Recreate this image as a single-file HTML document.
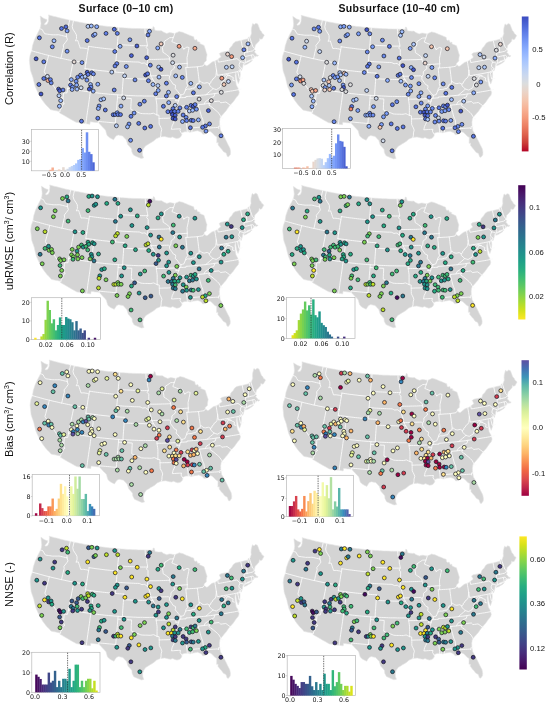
<!DOCTYPE html><html><head><meta charset="utf-8"><title>Figure</title><style>html,body{margin:0;padding:0;background:#fff}svg{display:block}text{font-family:"Liberation Sans",sans-serif;fill:#111}.dj{font-family:"DejaVu Sans","Liberation Sans",sans-serif;fill:#111}</style></head><body>
<svg width="550" height="707" viewBox="0 0 550 707">
<rect width="550" height="707" fill="#fff"/>
<defs><filter id="bl" x="-5%" y="-5%" width="110%" height="110%"><feGaussianBlur stdDeviation="0.35"/></filter>
<g id="us"><path d="M40.2,16.1 L41.1,16.6 L42.0,17.2 L43.0,17.9 L44.0,18.5 L45.8,19.2 L47.0,19.5 L46.8,21.0 L45.3,22.9 L44.3,24.1 L44.9,25.0 L46.0,24.6 L47.0,24.3 L47.8,22.8 L48.5,20.9 L48.5,19.2 L48.7,17.5 L48.8,16.1 L48.5,14.9 L50.3,15.4 L52.1,15.9 L53.9,16.4 L55.8,16.8 L57.6,17.3 L59.4,17.8 L61.2,18.2 L63.1,18.7 L64.9,19.1 L66.8,19.5 L68.6,19.9 L70.4,20.3 L72.3,20.7 L74.1,21.1 L76.0,21.5 L77.8,21.8 L79.7,22.2 L81.5,22.5 L83.4,22.9 L85.2,23.2 L87.1,23.5 L89.0,23.8 L90.8,24.1 L92.7,24.4 L94.6,24.7 L96.4,25.0 L98.3,25.2 L100.2,25.5 L102.0,25.7 L103.9,26.0 L105.8,26.2 L107.7,26.4 L109.5,26.6 L111.4,26.8 L113.3,27.0 L115.2,27.2 L117.0,27.4 L118.9,27.5 L120.8,27.7 L122.7,27.8 L124.6,27.9 L126.5,28.1 L128.3,28.2 L130.2,28.3 L132.1,28.4 L134.0,28.4 L135.9,28.5 L137.8,28.6 L139.7,28.6 L141.6,28.7 L143.4,28.7 L145.3,28.7 L147.2,28.8 L149.1,28.8 L151.0,28.8 L152.9,28.8 L152.9,26.7 L154.1,27.0 L154.5,28.6 L154.9,30.2 L156.4,30.5 L157.9,30.7 L159.6,30.8 L161.4,30.7 L163.4,32.1 L165.0,32.8 L166.7,33.5 L168.2,33.0 L169.6,32.6 L171.1,32.8 L172.5,33.1 L173.6,33.3 L174.7,33.5 L176.2,32.8 L177.7,32.2 L179.1,31.5 L180.9,31.9 L182.6,32.3 L184.6,33.2 L186.7,34.1 L188.3,34.7 L190.0,35.4 L191.6,36.1 L193.7,36.8 L194.2,39.3 L195.1,40.1 L196.7,39.6 L197.8,42.1 L199.1,41.7 L199.9,42.5 L199.4,43.3 L200.9,44.0 L202.5,44.7 L204.1,45.4 L204.8,47.7 L205.6,50.1 L206.3,52.5 L207.1,54.8 L206.7,56.6 L206.4,58.3 L206.4,60.5 L205.5,61.5 L204.1,62.7 L204.2,64.0 L206.3,65.8 L207.6,65.6 L209.0,64.4 L210.5,63.2 L212.0,62.0 L214.0,61.3 L216.0,60.6 L217.6,59.5 L219.2,58.3 L220.7,57.2 L220.9,56.3 L220.2,55.5 L220.0,54.7 L219.3,53.7 L221.1,52.4 L223.1,52.0 L225.0,51.6 L226.9,51.3 L228.9,50.9 L229.7,48.0 L230.9,46.9 L232.0,45.7 L233.5,43.1 L234.5,42.4 L235.6,41.6 L237.4,41.2 L239.3,40.8 L241.1,40.4 L242.9,40.0 L244.7,39.5 L246.5,39.1 L248.3,38.6 L248.4,37.3 L249.4,37.0 L250.5,36.6 L250.7,35.6 L251.5,33.4 L251.3,30.9 L251.5,27.9 L252.1,25.7 L252.7,23.5 L254.2,24.6 L255.9,23.2 L257.7,23.9 L258.5,26.0 L259.3,28.1 L260.1,30.2 L261.4,31.5 L262.4,33.6 L263.5,34.1 L264.3,35.3 L263.0,37.5 L262.4,38.8 L260.8,39.3 L259.7,38.4 L259.3,40.9 L258.1,42.2 L256.9,43.6 L255.4,44.9 L254.7,48.0 L254.3,49.5 L255.4,50.4 L254.4,52.1 L255.8,53.2 L256.9,55.0 L258.3,55.1 L258.3,55.8 L256.9,56.5 L256.3,55.7 L255.1,57.2 L253.6,56.7 L253.8,58.1 L252.3,59.1 L250.9,59.5 L249.4,60.0 L248.0,60.4 L246.6,61.5 L245.2,62.5 L244.3,63.6 L243.6,63.6 L243.0,65.0 L242.8,66.8 L242.2,68.7 L241.6,70.6 L239.7,69.2 L238.7,67.2 L239.4,69.6 L240.1,71.6 L240.2,73.0 L240.3,74.5 L240.1,76.7 L239.9,79.0 L239.2,81.3 L238.4,83.6 L237.7,81.8 L237.0,80.0 L236.6,77.7 L236.2,75.5 L236.1,73.6 L235.9,71.8 L235.5,73.6 L235.1,75.5 L235.3,77.7 L235.4,80.0 L235.9,82.5 L236.3,85.0 L237.1,86.5 L238.0,87.9 L238.6,90.1 L239.3,92.3 L238.7,94.6 L237.7,95.9 L236.6,97.1 L235.0,99.4 L233.4,101.7 L232.0,103.2 L230.6,104.8 L229.2,106.3 L227.6,108.6 L226.0,110.9 L224.6,112.4 L223.3,114.0 L221.9,115.5 L220.0,118.2 L219.8,119.9 L219.5,121.5 L219.6,123.1 L219.6,124.7 L220.1,127.5 L220.5,130.2 L221.3,131.5 L222.1,132.8 L223.3,135.2 L224.6,137.7 L225.8,140.1 L226.8,142.1 L227.8,144.2 L228.9,146.2 L229.9,148.2 L230.3,150.1 L230.6,152.0 L230.4,154.4 L228.6,156.8 L227.3,156.5 L226.7,154.7 L226.1,153.0 L223.5,151.7 L221.9,149.4 L220.3,147.7 L219.2,146.3 L218.1,144.9 L218.2,142.6 L216.7,142.8 L216.8,141.3 L216.8,139.7 L216.9,136.9 L214.9,135.8 L212.6,133.3 L210.8,131.8 L209.0,131.2 L207.6,132.2 L206.4,133.0 L205.1,133.9 L202.9,134.3 L201.1,132.1 L199.4,131.4 L197.7,130.7 L195.6,131.1 L193.5,131.4 L191.6,132.0 L189.4,132.3 L189.4,130.1 L188.7,130.4 L188.6,131.8 L186.7,131.8 L184.8,131.8 L182.4,132.6 L181.5,133.5 L181.9,134.6 L181.0,136.6 L179.2,138.0 L176.8,138.6 L174.6,137.9 L172.5,136.9 L170.7,137.7 L168.7,137.5 L166.7,137.0 L164.6,136.5 L162.5,136.7 L160.4,136.9 L158.3,137.8 L156.2,138.7 L153.7,140.9 L151.7,142.2 L149.6,143.4 L147.6,144.7 L145.5,145.9 L143.5,148.7 L142.9,150.4 L142.4,152.0 L142.5,153.7 L142.6,155.3 L143.6,157.9 L141.0,158.4 L139.6,157.8 L138.1,157.2 L135.8,156.2 L133.5,155.1 L132.6,153.4 L131.8,151.8 L131.6,149.0 L129.7,146.8 L127.7,144.6 L127.0,142.2 L126.2,139.8 L124.4,137.9 L122.6,135.9 L120.4,135.5 L118.2,135.0 L116.1,135.9 L114.8,137.8 L113.6,139.7 L111.5,138.7 L109.4,137.6 L107.1,135.5 L106.3,132.9 L105.6,130.3 L104.0,128.5 L102.3,126.8 L100.7,125.0 L99.5,123.8 L98.4,122.6 L96.3,122.4 L94.3,122.2 L92.3,121.9 L90.3,121.7 L89.9,124.2 L87.6,123.9 L85.3,123.6 L83.0,123.3 L80.6,122.9 L78.3,122.6 L76.0,122.2 L73.9,121.1 L71.8,119.9 L69.7,118.7 L67.6,117.5 L65.5,116.3 L63.4,115.1 L61.4,113.9 L59.3,112.7 L59.9,111.5 L58.0,111.2 L56.1,110.8 L54.2,110.4 L52.2,110.0 L50.3,109.6 L48.5,107.4 L47.2,106.2 L46.0,105.0 L44.4,103.0 L43.1,101.3 L41.8,99.5 L40.6,97.4 L39.5,95.3 L38.3,93.2 L37.2,91.0 L36.2,88.8 L35.2,86.6 L34.6,84.3 L34.0,82.0 L33.5,80.0 L33.1,78.0 L32.1,75.0 L31.2,72.6 L30.4,70.1 L30.1,67.6 L29.9,65.1 L29.6,62.6 L29.4,60.2 L29.7,57.7 L30.1,55.2 L31.0,52.7 L31.8,50.3 L32.2,47.8 L32.6,45.3 L33.3,43.3 L33.9,41.4 L34.6,39.4 L35.6,37.4 L36.5,35.4 L37.5,33.4 L38.5,31.5 L39.5,29.5 L40.1,28.0 L40.6,26.5 L40.8,25.0 L41.0,23.6 L40.8,21.5 L40.6,19.5 L40.4,17.8 L40.2,16.1ZM244.3,65.2 L245.5,64.8 L246.8,64.4 L248.7,63.2 L250.6,62.1 L251.6,61.2 L252.5,60.3 L250.7,60.6 L249.6,61.6 L248.4,62.1 L247.2,62.5 L246.1,63.0 L245.0,63.4 L244.2,64.8 L244.3,65.2Z" fill="#d4d4d4" stroke="#e6e6e6" stroke-width="0.6" stroke-linejoin="round"/><path d="M39.5,28.5 L40.9,29.1 L42.3,29.6 L43.3,31.6 L44.8,33.8 L46.3,34.0 L47.7,34.2 L49.2,34.4 L50.6,34.6 L52.0,34.8 L53.7,34.8 L55.3,34.8 L57.0,34.8 L58.3,34.7 L59.9,35.0 L61.5,35.4 L63.1,35.8 L64.8,36.2 L66.4,36.5M69.7,20.2 L69.2,22.5 L68.6,24.8 L68.1,27.2 L67.5,29.5 L67.0,31.9 L66.4,34.2 L66.4,36.5M66.4,36.5 L67.4,39.6 L66.4,41.1 L65.3,42.6 L63.3,45.0 L63.6,47.4 L63.2,48.4 L62.6,50.9 L62.0,53.3 L61.5,55.8 L60.9,58.3M31.4,50.7 L33.4,51.3 L35.4,51.9 L37.4,52.4 L39.4,53.0 L41.4,53.5 L43.4,54.1 L45.4,54.6 L47.4,55.1 L49.4,55.6 L51.4,56.1 L53.4,56.6 L55.4,57.0 L57.4,57.5 L59.4,58.0 L61.5,58.4 L63.5,58.8 L65.5,59.3 L67.5,59.7 L69.6,60.1 L71.6,60.5 L73.6,60.9 L75.7,61.2 L77.7,61.6 L79.7,61.9 L81.8,62.3 L83.8,62.6 L85.9,62.9M48.6,55.4 L47.9,58.1 L47.2,60.9 L46.4,63.6 L45.7,66.3 L45.0,69.0 L44.2,71.8 L45.8,74.3 L47.4,76.8 L49.1,79.3 L50.7,81.8 L52.4,84.3 L54.1,86.7 L55.8,89.2 L57.6,91.7 L59.3,94.1 L61.1,96.6 L62.9,99.0M62.9,99.0 L63.0,100.2 L63.2,103.1 L64.3,103.6 L62.3,105.2 L61.7,108.0 L60.1,110.0 L59.9,111.5M62.9,99.0 L63.2,97.0 L63.4,94.9 L63.6,92.8 L65.3,92.9 L66.9,92.9 L67.4,90.7 L67.8,88.5M67.8,88.5 L68.4,85.7 L68.9,82.9 L69.5,80.2 L70.0,77.4 L70.6,74.6 L71.1,71.8 L71.7,69.1 L72.2,66.3 L72.8,63.6 L73.3,60.8M67.8,88.5 L70.0,88.9 L72.3,89.3 L74.5,89.7 L76.7,90.0 L79.0,90.4 L81.2,90.7 L83.5,91.1 L85.7,91.4 L88.0,91.7 L90.2,92.0 L92.5,92.3 L94.7,92.6 L97.0,92.9 L99.2,93.2 L101.5,93.4 L103.8,93.7 L106.0,93.9 L108.3,94.1 L110.5,94.3 L112.8,94.5 L115.1,94.7 L117.3,94.8 L119.6,95.0 L121.9,95.1 L124.1,95.3 L126.4,95.4 L128.7,95.5 L130.9,95.6 L133.2,95.7 L135.5,95.8 L137.7,95.9 L140.0,95.9 L142.3,95.9 L144.6,96.0 L146.8,96.0 L149.1,96.0 L151.4,96.0 L153.7,96.0 L155.9,96.0M93.5,69.7 L93.1,72.4 L92.7,75.1 L92.3,77.8 L91.9,80.5 L91.6,83.2 L91.2,85.9 L90.8,88.6 L90.4,91.3 L90.0,94.0 L89.6,96.7 L89.3,99.4 L88.9,102.1 L88.5,104.8 L88.1,107.5 L87.7,110.2 L87.3,112.9 L86.9,115.6 L86.6,118.3 L86.2,121.0 L85.8,123.7M85.9,62.9 L85.4,65.7 L85.0,68.5M88.6,46.3 L88.2,49.1 L87.7,51.8 L87.2,54.6 L86.8,57.4 L86.3,60.2 L85.9,62.9M88.6,46.3 L90.6,46.6 L92.6,46.9 L94.6,47.2 L96.7,47.5 L98.7,47.7 L100.7,48.0 L102.7,48.2 L104.7,48.5 L106.8,48.7 L108.8,48.9 L110.8,49.1 L112.8,49.3 L114.9,49.5 L116.9,49.7M85.0,68.5 L87.1,68.8 L89.2,69.1 L91.4,69.4 L93.5,69.7 L95.6,70.0 L97.8,70.3 L99.9,70.5 L102.1,70.8 L104.2,71.0 L106.3,71.2 L108.5,71.5 L110.6,71.7 L112.8,71.9 L114.9,72.0 L117.1,72.2 L119.2,72.4 L121.4,72.5 L123.5,72.7M73.4,21.0 L72.8,23.7 L72.2,26.4 L72.8,29.0 L73.9,30.8 L75.1,32.6 L76.4,34.9 L76.5,36.7 L76.5,38.6 L75.4,40.9 L76.6,40.7 L77.7,40.5 L78.4,42.5 L79.0,44.4 L79.6,46.2 L80.2,48.1 L81.7,48.0 L83.1,48.0 L84.8,48.3 L86.4,48.5 L88.1,49.2M118.8,27.5 L118.6,30.3 L118.4,33.0 L118.1,35.8 L117.9,38.5 L117.6,41.3 L117.4,44.1 L117.1,46.9 L116.9,49.7 L116.6,52.4 L116.4,55.2 L116.2,58.0 L115.9,60.8 L115.7,63.6 L115.4,66.4 L115.2,69.2 L114.9,72.0M117.4,44.4 L119.3,44.6 L121.3,44.7 L123.3,44.9 L125.3,45.0 L127.3,45.1 L129.4,45.2 L131.4,45.3 L133.4,45.4 L135.4,45.5 L137.4,45.6 L139.4,45.6 L141.4,45.7 L143.4,45.7 L145.4,45.7 L147.4,45.7M115.9,60.8 L117.8,61.0 L119.8,61.1 L121.7,61.3 L123.6,61.4 L125.6,61.5 L127.5,61.6 L129.5,61.7 L131.4,61.8 L133.3,61.9 L135.3,62.0 L137.2,62.0 L139.1,62.1 L140.4,62.7 L141.6,63.3 L143.1,63.1 L144.6,63.0 L145.8,64.0 L147.1,65.0 L147.7,65.0M123.5,72.7 L123.4,75.5 L123.2,78.3 L123.0,81.1 L122.8,83.9 L122.6,86.7 L122.4,89.5 L122.2,92.3 L122.1,95.2M123.2,78.3 L125.3,78.4 L127.4,78.5 L129.5,78.6 L131.6,78.7 L133.7,78.8 L135.8,78.9 L137.9,78.9 L140.0,79.0 L142.1,79.0 L144.3,79.1 L146.4,79.1 L148.5,79.1 L150.6,79.1 L152.7,79.1M117.7,94.9 L117.5,97.7 L117.3,100.5 L117.0,103.3 L116.8,106.1 L116.6,108.9 L116.3,111.7 L116.1,114.5 L115.8,117.3 L115.6,120.1 L115.4,122.9M115.4,122.9 L113.2,122.8 L111.0,122.6 L108.9,122.4 L106.7,122.2 L104.5,122.0 L102.4,121.8 L100.2,121.6 L98.1,121.4 L98.4,122.6M117.5,97.7 L119.8,97.8 L122.1,98.0 L124.4,98.1 L126.7,98.2 L129.0,98.4 L131.3,98.5 L131.2,101.2 L131.0,103.9 L130.9,106.6 L130.8,109.4 L132.7,110.2 L134.5,111.0 L136.1,111.6 L137.8,112.2 L139.2,112.8 L140.6,113.4 L142.3,113.6 L143.9,113.7 L145.4,113.7 L146.8,113.7 L148.7,113.8 L150.6,113.8 L152.0,113.5 L153.4,113.2 L155.1,114.0 L156.9,114.9M156.9,114.9 L159.0,115.3 L159.0,117.5 L159.1,119.7 L159.1,121.9 L159.2,124.1 L160.0,125.7 L160.9,127.4 L161.7,129.6 L161.0,132.4 L160.9,135.2 L160.4,136.9M155.9,96.0 L156.0,98.8 L156.3,100.8 L156.6,102.9 L156.9,105.0 L156.9,107.4 L156.9,109.9 L156.9,112.4 L156.9,114.9M159.0,118.4 L161.3,118.4 L163.6,118.3 L165.9,118.3 L168.2,118.2 L170.5,118.1 L172.8,118.0M156.0,98.8 L158.2,98.7 L160.5,98.7 L162.8,98.6 L165.1,98.6 L167.4,98.5 L169.6,98.4 L171.9,98.3 L174.2,98.2 L176.5,98.0 L175.6,100.9 L177.2,100.8 L178.7,100.7M155.9,96.0 L155.9,93.6 L155.9,91.2 L155.8,88.9 L155.8,86.5 L155.7,84.1 L154.0,81.3 L152.7,79.1 L151.7,77.4 L150.7,75.7 L150.4,74.0 L150.1,72.3 L149.2,69.5 L148.5,67.3 L147.7,65.0M150.6,75.8 L152.6,75.8 L154.5,75.8 L156.5,75.7 L158.4,75.7 L160.4,75.6 L162.3,75.5 L164.3,75.4 L166.2,75.4 L168.2,75.3 L169.5,76.5M147.8,59.4 L149.7,59.4 L151.7,59.4 L153.7,59.4 L155.7,59.4 L157.7,59.3 L159.6,59.3 L161.6,59.2 L163.6,59.2 L165.6,59.1 L167.5,59.0 L169.5,58.9M147.7,65.0 L147.1,63.9 L147.4,61.6 L147.8,59.4 L147.8,56.9 L147.8,54.4 L147.8,51.8 L147.8,49.3 L146.2,47.6 L147.4,45.7 L147.2,43.5 L146.8,41.9 L146.5,40.4 L146.4,38.4 L146.3,36.5 L145.7,34.8 L145.2,33.2 L145.0,31.0 L144.9,28.7M165.1,40.9 L164.3,41.5 L164.4,43.0 L164.4,44.6 L163.4,46.0 L162.3,47.4 L162.6,49.1 L162.9,50.8 L162.9,52.2 L164.7,53.4 L166.5,54.6 L167.9,55.8 L169.3,57.0 L169.5,58.9 L170.2,61.7 L172.2,64.4 L174.3,66.5 L174.4,68.2 L172.6,69.7 L170.9,71.2 L170.8,74.1 L169.5,76.5 L169.3,78.6 L170.5,80.3 L171.7,81.9 L173.1,84.1 L175.4,85.1 L175.5,86.8 L175.0,88.5 L177.1,90.4 L178.1,91.9 L179.1,93.3 L180.8,94.9 L180.8,97.2 L179.4,97.8 L178.7,100.7 L177.9,102.7 L177.1,104.8 L177.2,106.5 L175.0,108.8 L174.2,110.6 L173.3,112.3 L173.1,115.1 L172.8,118.0 L173.3,120.8 L174.1,121.8 L173.1,123.9 L172.1,125.9 L171.7,127.6 L171.3,129.3 L173.6,129.2 L175.9,129.0 L178.2,128.9 L180.5,128.8 L180.0,130.8 L181.5,133.3M172.2,64.4 L174.1,64.3 L176.1,64.2 L178.0,64.0 L179.9,63.9 L181.8,63.8 L183.7,63.6 L185.7,63.5 L187.6,63.3M183.7,49.0 L185.4,48.0 L187.0,47.0 L189.1,47.6 L188.6,50.2 L188.1,52.7 L187.6,55.2 L187.0,57.7 L187.1,60.5 L187.2,63.3 L187.2,65.4 L187.1,67.5 L185.8,67.6M174.7,33.5 L174.1,35.5 L173.4,37.4 L172.6,39.5 L171.8,41.6 L173.6,42.4 L175.4,43.1 L177.2,43.9 L179.3,44.3 L181.3,44.7 L182.6,47.4 L183.7,49.0M165.1,40.9 L166.6,39.8 L168.2,38.8 L169.7,37.7 L171.5,37.6 L173.4,37.4M185.8,67.6 L186.0,70.3 L186.3,73.0 L186.5,75.7 L186.8,78.4 L187.0,81.1 L186.9,83.1 L187.6,85.9 L185.8,88.3 L185.5,90.0M180.8,94.9 L182.3,94.5 L183.8,94.1 L184.6,92.1 L185.5,90.0 L187.4,89.0 L188.8,89.1 L190.1,89.1 L192.3,88.3 L194.5,88.1 L195.7,86.3 L196.8,83.9 L198.0,83.5 L199.1,83.0 L199.2,81.3 L200.5,81.2 L202.0,82.7 L203.3,83.0 L204.5,83.2 L206.0,82.9 L207.4,82.6 L209.4,83.7 L211.0,82.7 L210.8,81.5 L212.6,80.1 L212.7,79.0 L214.7,77.6 L215.9,75.7 L216.3,72.7 L216.5,70.2M199.2,81.3 L198.9,78.9 L198.6,76.5 L198.3,74.1 L198.0,71.6 L197.7,69.2 L197.4,66.8M187.1,67.5 L189.2,67.4 L191.2,67.2 L193.3,67.1 L195.3,67.0 L197.4,66.8 L199.3,66.5 L201.2,66.2 L203.1,65.9 L204.3,64.2M216.5,70.2 L216.1,67.9 L215.7,65.5 L215.3,63.2 L214.9,60.9M217.9,59.4 L218.4,62.1 L220.4,61.8 L222.5,61.4 L224.5,61.1 L226.6,60.7 L228.6,60.3 L230.7,59.9 L232.7,59.5 L234.8,59.1 L236.8,58.6 L238.1,59.5 L240.3,61.6 L239.2,64.2 L239.2,66.2 L241.6,68.0 L240.5,69.9 L239.2,72.0M216.5,70.2 L216.9,72.8 L217.3,75.3 L219.4,75.0 L221.4,74.6 L223.5,74.3 L225.5,73.9 L227.6,73.6 L229.6,73.2 L231.7,72.8 L233.7,72.4 L235.7,72.0 L237.8,71.6 L238.4,70.8 L239.1,70.8M237.8,71.6 L238.3,73.9 L238.8,76.2 L239.3,78.5 L240.9,78.2 L242.6,77.9M221.9,74.6 L222.1,76.0 L222.4,77.5 L223.8,76.5 L225.2,75.4 L226.6,74.4 L228.2,75.0 L229.8,75.6 L231.1,76.5 L233.3,77.5 L232.8,80.2 L234.5,80.7M229.8,75.6 L228.4,75.5 L227.1,75.5 L226.3,77.3 L225.5,79.2 L223.9,80.2 L222.3,81.2 L221.3,84.2 L220.4,87.2 L218.4,88.4 L216.4,89.6 L214.7,89.1 L213.0,88.6 L211.3,87.0 L209.6,85.4 L209.4,83.7M213.0,88.6 L211.3,90.2 L209.5,91.7 L207.7,93.2 L206.0,94.7M241.3,89.1 L239.1,89.5 L236.9,90.0 L234.8,90.4 L232.6,90.8 L230.4,91.1 L228.2,91.5 L226.0,91.9 L223.8,92.2 L221.6,92.6 L219.4,92.9 L217.2,93.2 L215.0,93.5 L212.8,93.9 L210.5,94.2 L208.2,94.4 L206.0,94.7 L203.7,95.0 L201.5,95.2 L199.3,95.4 L197.1,95.6 L194.8,95.8 L192.6,96.0 L190.4,96.2 L188.2,96.4 L185.9,96.5 L186.0,97.4 L183.8,97.5 L181.6,97.7 L179.4,97.8M215.0,93.5 L214.0,96.5 L212.7,97.0 L211.4,97.4 L209.3,99.1 L207.3,100.4 L205.4,101.6 L204.2,104.0M176.3,106.5 L178.6,106.4 L180.8,106.2 L183.0,106.1 L185.3,105.9 L187.5,105.7 L189.8,105.5 L192.0,105.3 L194.2,105.1 L196.5,104.9 L198.7,104.7 L200.9,104.4 L203.2,104.2 L205.4,103.9 L207.6,103.6 L209.9,103.3 L211.4,102.5 L212.9,101.8 L215.0,101.6 L217.1,101.3 L219.2,101.1 L220.0,101.9 L220.7,102.8 L222.4,102.5 L224.2,102.3 L225.9,102.0 L228.0,103.5 L230.0,105.0 L232.1,106.4M209.9,103.3 L208.9,105.1 L210.5,106.2 L212.1,107.3 L214.1,109.0 L216.2,110.7 L217.6,112.0 L219.0,113.4 L220.4,115.8 L221.7,118.1 L223.0,118.2M198.2,104.7 L198.9,107.1 L199.5,109.4 L200.2,111.8 L200.8,114.2 L201.5,116.5 L202.2,118.0 L202.8,119.5 L203.1,121.9 L203.4,124.3 L203.7,126.7M186.1,105.8 L186.2,108.3 L186.2,110.8 L186.2,113.3 L186.3,115.8 L186.3,118.3 L186.3,120.8 L186.4,123.3 L186.6,125.5 L186.9,127.6 L187.1,129.8 L187.3,131.9M191.8,131.8 L192.1,129.9 L191.0,128.0 L193.1,127.8 L195.2,127.6 L197.3,127.4 L199.5,127.2 L201.6,127.0 L203.7,126.7 L204.6,128.3 L206.8,128.2 L209.0,128.0 L211.2,127.9 L213.4,127.7 L215.6,127.6 L217.7,127.4 L218.7,128.5 L218.6,126.2 L219.9,126.2 L221.3,126.1M241.0,40.4 L241.6,43.2 L242.1,45.9 L243.3,47.9 L243.8,50.3 L244.4,52.6 L244.4,54.6 L244.4,56.6 L244.9,58.7 L245.4,60.7 L245.2,62.5M248.3,38.6 L248.6,41.4 L247.4,44.0 L247.2,46.1 L247.0,48.2 L247.2,50.1 L247.4,52.0M249.5,36.6 L250.3,39.1 L251.1,41.6 L252.0,44.2 L252.8,46.7 L254.4,48.2M244.4,52.6 L246.4,52.2 L248.4,51.8 L250.5,51.3 L252.5,50.9 L254.3,49.4M244.4,56.6 L246.2,56.3 L247.9,55.9 L249.7,55.5 L251.4,55.1 L253.2,54.7 L253.4,55.3 L254.7,56.3 L255.1,57.2M251.4,55.1 L251.9,57.1 L252.3,59.1M240.3,61.6 L242.2,62.2 L244.1,62.8" fill="none" stroke="#fafafa" stroke-width="0.9" filter="url(#bl)" stroke-linejoin="round" stroke-linecap="round"/></g>
<linearGradient id="g0" x1="0" y1="0" x2="0" y2="1"><stop offset="0.0000" stop-color="#3b4cc0"/><stop offset="0.0625" stop-color="#4c66d6"/><stop offset="0.1250" stop-color="#6180e9"/><stop offset="0.1875" stop-color="#7699f6"/><stop offset="0.2500" stop-color="#8caffe"/><stop offset="0.3125" stop-color="#a2c1ff"/><stop offset="0.3750" stop-color="#b7cff9"/><stop offset="0.4375" stop-color="#cbd8ee"/><stop offset="0.5000" stop-color="#dcdddd"/><stop offset="0.5625" stop-color="#ebd3c6"/><stop offset="0.6250" stop-color="#f4c5ad"/><stop offset="0.6875" stop-color="#f7b194"/><stop offset="0.7500" stop-color="#f49a7b"/><stop offset="0.8125" stop-color="#ec7f63"/><stop offset="0.8750" stop-color="#de614d"/><stop offset="0.9375" stop-color="#cb3e38"/><stop offset="1.0000" stop-color="#b40426"/></linearGradient>
<linearGradient id="g1" x1="0" y1="0" x2="0" y2="1"><stop offset="0.0000" stop-color="#440154"/><stop offset="0.0625" stop-color="#481769"/><stop offset="0.1250" stop-color="#472c7a"/><stop offset="0.1875" stop-color="#423f85"/><stop offset="0.2500" stop-color="#3b518b"/><stop offset="0.3125" stop-color="#33628d"/><stop offset="0.3750" stop-color="#2c718e"/><stop offset="0.4375" stop-color="#26818e"/><stop offset="0.5000" stop-color="#21908d"/><stop offset="0.5625" stop-color="#1f9f88"/><stop offset="0.6250" stop-color="#27ad81"/><stop offset="0.6875" stop-color="#3dbc74"/><stop offset="0.7500" stop-color="#5cc863"/><stop offset="0.8125" stop-color="#81d34d"/><stop offset="0.8750" stop-color="#aadc32"/><stop offset="0.9375" stop-color="#d5e21a"/><stop offset="1.0000" stop-color="#fde725"/></linearGradient>
<linearGradient id="g2" x1="0" y1="0" x2="0" y2="1"><stop offset="0.0000" stop-color="#5e4fa2"/><stop offset="0.0625" stop-color="#4471b2"/><stop offset="0.1250" stop-color="#3d95b8"/><stop offset="0.1875" stop-color="#5eb9a9"/><stop offset="0.2500" stop-color="#86cfa5"/><stop offset="0.3125" stop-color="#b1dfa3"/><stop offset="0.3750" stop-color="#d6ee9b"/><stop offset="0.4375" stop-color="#eff9a6"/><stop offset="0.5000" stop-color="#ffffbe"/><stop offset="0.5625" stop-color="#feec9f"/><stop offset="0.6250" stop-color="#fed481"/><stop offset="0.6875" stop-color="#fdb567"/><stop offset="0.7500" stop-color="#f98e52"/><stop offset="0.8125" stop-color="#f06744"/><stop offset="0.8750" stop-color="#dd4a4c"/><stop offset="0.9375" stop-color="#c1274a"/><stop offset="1.0000" stop-color="#9e0142"/></linearGradient>
<linearGradient id="g3" x1="0" y1="0" x2="0" y2="1"><stop offset="0.0000" stop-color="#fde725"/><stop offset="0.0625" stop-color="#d8e219"/><stop offset="0.1250" stop-color="#addc30"/><stop offset="0.1875" stop-color="#84d44b"/><stop offset="0.2500" stop-color="#5ec962"/><stop offset="0.3125" stop-color="#3fbc73"/><stop offset="0.3750" stop-color="#28ae80"/><stop offset="0.4375" stop-color="#1fa088"/><stop offset="0.5000" stop-color="#21918c"/><stop offset="0.5625" stop-color="#26828e"/><stop offset="0.6250" stop-color="#2c728e"/><stop offset="0.6875" stop-color="#33638d"/><stop offset="0.7500" stop-color="#3b528b"/><stop offset="0.8125" stop-color="#424086"/><stop offset="0.8750" stop-color="#472d7b"/><stop offset="0.9375" stop-color="#48186a"/><stop offset="1.0000" stop-color="#440154"/></linearGradient>
</defs>
<use href="#us" transform="translate(0.00,0.00) scale(1.0000,1.0000)"/>
<use href="#us" transform="translate(252.69,0.37) scale(0.9986,1.0010)"/>
<use href="#us" transform="translate(1.51,170.09) scale(0.9922,0.9970)"/>
<use href="#us" transform="translate(253.57,170.63) scale(0.9912,0.9921)"/>
<use href="#us" transform="translate(0.65,345.20) scale(1.0022,0.9931)"/>
<use href="#us" transform="translate(253.55,346.89) scale(0.9969,0.9985)"/>
<use href="#us" transform="translate(0.91,521.24) scale(0.9953,1.0020)"/>
<use href="#us" transform="translate(254.05,522.89) scale(0.9915,0.9901)"/>
<g stroke="#15151f" stroke-width="0.7">
<circle cx="61.5" cy="28.5" r="1.95" fill="#5977e3"/>
<circle cx="65.9" cy="26.9" r="1.95" fill="#516ddb"/>
<circle cx="67.1" cy="30.9" r="1.95" fill="#7b9ff9"/>
<circle cx="39.4" cy="37.8" r="1.95" fill="#5977e3"/>
<circle cx="54.0" cy="40.8" r="1.95" fill="#9ebeff"/>
<circle cx="52.3" cy="46.8" r="1.95" fill="#6a8bef"/>
<circle cx="67.1" cy="51.2" r="1.95" fill="#7295f4"/>
<circle cx="36.1" cy="58.8" r="1.95" fill="#4257c9"/>
<circle cx="43.8" cy="61.8" r="1.95" fill="#6180e9"/>
<circle cx="74.1" cy="61.9" r="1.95" fill="#e3d9d3"/>
<circle cx="82.0" cy="62.6" r="1.95" fill="#7295f4"/>
<circle cx="88.0" cy="26.4" r="1.95" fill="#b7cff9"/>
<circle cx="91.3" cy="26.0" r="1.95" fill="#9ebeff"/>
<circle cx="96.7" cy="26.7" r="1.95" fill="#8caffe"/>
<circle cx="93.4" cy="35.4" r="1.95" fill="#6a8bef"/>
<circle cx="95.0" cy="34.2" r="1.95" fill="#96b7ff"/>
<circle cx="87.2" cy="40.6" r="1.95" fill="#5977e3"/>
<circle cx="106.0" cy="33.4" r="1.95" fill="#6180e9"/>
<circle cx="114.3" cy="29.3" r="1.95" fill="#516ddb"/>
<circle cx="114.8" cy="51.5" r="1.95" fill="#6180e9"/>
<circle cx="117.3" cy="33.4" r="1.95" fill="#6180e9"/>
<circle cx="129.9" cy="39.8" r="1.95" fill="#7295f4"/>
<circle cx="120.1" cy="46.3" r="1.95" fill="#8caffe"/>
<circle cx="136.9" cy="46.0" r="1.95" fill="#4961d2"/>
<circle cx="131.4" cy="55.6" r="1.95" fill="#4961d2"/>
<circle cx="116.8" cy="63.6" r="1.95" fill="#6180e9"/>
<circle cx="115.0" cy="66.0" r="1.95" fill="#6180e9"/>
<circle cx="126.3" cy="66.5" r="1.95" fill="#7295f4"/>
<circle cx="149.5" cy="31.3" r="1.95" fill="#8caffe"/>
<circle cx="148.0" cy="35.0" r="1.95" fill="#6180e9"/>
<circle cx="146.7" cy="57.7" r="1.95" fill="#4961d2"/>
<circle cx="150.3" cy="65.2" r="1.95" fill="#6180e9"/>
<circle cx="161.1" cy="43.9" r="1.95" fill="#f2cbb7"/>
<circle cx="157.7" cy="48.0" r="1.95" fill="#8caffe"/>
<circle cx="158.7" cy="67.1" r="1.95" fill="#a7c5fe"/>
<circle cx="161.0" cy="69.3" r="1.95" fill="#4257c9"/>
<circle cx="179.1" cy="46.3" r="1.95" fill="#f49a7b"/>
<circle cx="194.9" cy="48.3" r="1.95" fill="#f7ac8e"/>
<circle cx="173.1" cy="55.2" r="1.95" fill="#dcdddd"/>
<circle cx="172.6" cy="62.7" r="1.95" fill="#cfdaea"/>
<circle cx="179.5" cy="67.1" r="1.95" fill="#9ebeff"/>
<circle cx="227.6" cy="54.2" r="1.95" fill="#e9d5cb"/>
<circle cx="231.6" cy="56.6" r="1.95" fill="#f49a7b"/>
<circle cx="248.0" cy="43.9" r="1.95" fill="#9ebeff"/>
<circle cx="243.9" cy="49.8" r="1.95" fill="#6180e9"/>
<circle cx="242.6" cy="57.7" r="1.95" fill="#a7c5fe"/>
<circle cx="226.4" cy="67.3" r="1.95" fill="#b7cff9"/>
<circle cx="232.1" cy="66.8" r="1.95" fill="#c0d4f5"/>
<circle cx="47.4" cy="76.4" r="1.95" fill="#ccd9ed"/>
<circle cx="43.8" cy="78.5" r="1.95" fill="#5977e3"/>
<circle cx="47.9" cy="80.5" r="1.95" fill="#f7ac8e"/>
<circle cx="50.4" cy="79.6" r="1.95" fill="#6180e9"/>
<circle cx="51.2" cy="82.9" r="1.95" fill="#6a8bef"/>
<circle cx="38.9" cy="84.5" r="1.95" fill="#5977e3"/>
<circle cx="41.0" cy="94.0" r="1.95" fill="#4257c9"/>
<circle cx="58.6" cy="89.1" r="1.95" fill="#4257c9"/>
<circle cx="59.7" cy="90.8" r="1.95" fill="#4961d2"/>
<circle cx="63.0" cy="90.0" r="1.95" fill="#6180e9"/>
<circle cx="59.0" cy="95.7" r="1.95" fill="#b7cff9"/>
<circle cx="60.7" cy="100.6" r="1.95" fill="#9ebeff"/>
<circle cx="59.4" cy="106.2" r="1.95" fill="#9ebeff"/>
<circle cx="71.3" cy="79.6" r="1.95" fill="#8caffe"/>
<circle cx="70.5" cy="85.0" r="1.95" fill="#6180e9"/>
<circle cx="72.5" cy="87.0" r="1.95" fill="#7295f4"/>
<circle cx="72.1" cy="89.5" r="1.95" fill="#8caffe"/>
<circle cx="76.1" cy="81.3" r="1.95" fill="#7295f4"/>
<circle cx="76.6" cy="85.0" r="1.95" fill="#8caffe"/>
<circle cx="77.0" cy="89.1" r="1.95" fill="#9ebeff"/>
<circle cx="77.7" cy="77.2" r="1.95" fill="#6a8bef"/>
<circle cx="80.6" cy="75.1" r="1.95" fill="#6a8bef"/>
<circle cx="81.1" cy="87.8" r="1.95" fill="#cfdaea"/>
<circle cx="82.3" cy="77.2" r="1.95" fill="#96b7ff"/>
<circle cx="85.2" cy="76.4" r="1.95" fill="#b7cff9"/>
<circle cx="87.2" cy="72.3" r="1.95" fill="#4961d2"/>
<circle cx="88.0" cy="74.4" r="1.95" fill="#6180e9"/>
<circle cx="86.9" cy="80.1" r="1.95" fill="#7295f4"/>
<circle cx="91.8" cy="72.8" r="1.95" fill="#6180e9"/>
<circle cx="93.4" cy="73.9" r="1.95" fill="#6a8bef"/>
<circle cx="90.5" cy="84.5" r="1.95" fill="#9ebeff"/>
<circle cx="91.0" cy="87.0" r="1.95" fill="#6a8bef"/>
<circle cx="89.3" cy="89.1" r="1.95" fill="#4257c9"/>
<circle cx="93.2" cy="91.1" r="1.95" fill="#8caffe"/>
<circle cx="97.8" cy="84.2" r="1.95" fill="#8caffe"/>
<circle cx="111.8" cy="72.1" r="1.95" fill="#b7cff9"/>
<circle cx="114.2" cy="90.0" r="1.95" fill="#6180e9"/>
<circle cx="101.0" cy="99.8" r="1.95" fill="#9ebeff"/>
<circle cx="103.7" cy="98.9" r="1.95" fill="#a7c5fe"/>
<circle cx="99.1" cy="106.0" r="1.95" fill="#7295f4"/>
<circle cx="98.3" cy="108.5" r="1.95" fill="#8caffe"/>
<circle cx="105.3" cy="110.0" r="1.95" fill="#5977e3"/>
<circle cx="97.8" cy="118.2" r="1.95" fill="#6180e9"/>
<circle cx="113.2" cy="114.7" r="1.95" fill="#5977e3"/>
<circle cx="81.5" cy="121.2" r="1.95" fill="#5977e3"/>
<circle cx="123.7" cy="97.9" r="1.95" fill="#cfdaea"/>
<circle cx="121.0" cy="106.1" r="1.95" fill="#8caffe"/>
<circle cx="115.2" cy="114.6" r="1.95" fill="#6180e9"/>
<circle cx="117.2" cy="112.7" r="1.95" fill="#7295f4"/>
<circle cx="118.0" cy="114.6" r="1.95" fill="#6180e9"/>
<circle cx="120.5" cy="114.6" r="1.95" fill="#5977e3"/>
<circle cx="116.4" cy="125.8" r="1.95" fill="#b7cff9"/>
<circle cx="131.0" cy="116.3" r="1.95" fill="#6180e9"/>
<circle cx="134.1" cy="113.0" r="1.95" fill="#7295f4"/>
<circle cx="139.9" cy="104.2" r="1.95" fill="#6180e9"/>
<circle cx="144.3" cy="101.2" r="1.95" fill="#6180e9"/>
<circle cx="129.0" cy="124.0" r="1.95" fill="#7295f4"/>
<circle cx="127.5" cy="126.8" r="1.95" fill="#9ebeff"/>
<circle cx="138.7" cy="123.4" r="1.95" fill="#5977e3"/>
<circle cx="144.8" cy="128.0" r="1.95" fill="#5977e3"/>
<circle cx="130.6" cy="140.3" r="1.95" fill="#7295f4"/>
<circle cx="139.6" cy="150.3" r="1.95" fill="#5977e3"/>
<circle cx="124.6" cy="75.9" r="1.95" fill="#c0d4f5"/>
<circle cx="135.0" cy="79.9" r="1.95" fill="#6a8bef"/>
<circle cx="145.6" cy="75.0" r="1.95" fill="#4257c9"/>
<circle cx="147.6" cy="73.8" r="1.95" fill="#5977e3"/>
<circle cx="148.4" cy="80.7" r="1.95" fill="#6180e9"/>
<circle cx="153.0" cy="84.5" r="1.95" fill="#9ebeff"/>
<circle cx="159.0" cy="77.1" r="1.95" fill="#9ebeff"/>
<circle cx="157.9" cy="85.6" r="1.95" fill="#b7cff9"/>
<circle cx="158.2" cy="90.5" r="1.95" fill="#8caffe"/>
<circle cx="155.7" cy="93.8" r="1.95" fill="#6180e9"/>
<circle cx="166.4" cy="83.2" r="1.95" fill="#6180e9"/>
<circle cx="175.7" cy="75.9" r="1.95" fill="#9ebeff"/>
<circle cx="182.3" cy="77.4" r="1.95" fill="#6a8bef"/>
<circle cx="190.8" cy="83.4" r="1.95" fill="#9ebeff"/>
<circle cx="168.5" cy="92.3" r="1.95" fill="#9ebeff"/>
<circle cx="166.4" cy="96.0" r="1.95" fill="#6180e9"/>
<circle cx="176.7" cy="96.6" r="1.95" fill="#6180e9"/>
<circle cx="168.7" cy="102.6" r="1.95" fill="#8caffe"/>
<circle cx="163.4" cy="106.3" r="1.95" fill="#5977e3"/>
<circle cx="193.4" cy="92.8" r="1.95" fill="#5977e3"/>
<circle cx="175.2" cy="105.4" r="1.95" fill="#b7cff9"/>
<circle cx="173.0" cy="108.6" r="1.95" fill="#5977e3"/>
<circle cx="179.9" cy="107.9" r="1.95" fill="#6180e9"/>
<circle cx="167.9" cy="111.7" r="1.95" fill="#6180e9"/>
<circle cx="171.4" cy="111.7" r="1.95" fill="#4257c9"/>
<circle cx="174.6" cy="111.4" r="1.95" fill="#5977e3"/>
<circle cx="178.1" cy="111.4" r="1.95" fill="#6180e9"/>
<circle cx="172.4" cy="114.6" r="1.95" fill="#4257c9"/>
<circle cx="175.2" cy="115.2" r="1.95" fill="#4961d2"/>
<circle cx="173.0" cy="118.4" r="1.95" fill="#4257c9"/>
<circle cx="175.2" cy="119.0" r="1.95" fill="#4257c9"/>
<circle cx="183.1" cy="115.0" r="1.95" fill="#6180e9"/>
<circle cx="186.1" cy="117.4" r="1.95" fill="#6a8bef"/>
<circle cx="182.5" cy="121.5" r="1.95" fill="#8caffe"/>
<circle cx="186.6" cy="120.6" r="1.95" fill="#6180e9"/>
<circle cx="191.2" cy="120.3" r="1.95" fill="#5977e3"/>
<circle cx="193.2" cy="120.6" r="1.95" fill="#5977e3"/>
<circle cx="198.4" cy="119.9" r="1.95" fill="#8caffe"/>
<circle cx="190.4" cy="127.7" r="1.95" fill="#5977e3"/>
<circle cx="186.6" cy="107.3" r="1.95" fill="#6180e9"/>
<circle cx="191.0" cy="105.4" r="1.95" fill="#5977e3"/>
<circle cx="193.2" cy="106.2" r="1.95" fill="#4257c9"/>
<circle cx="195.1" cy="104.6" r="1.95" fill="#6180e9"/>
<circle cx="189.4" cy="111.0" r="1.95" fill="#b7cff9"/>
<circle cx="192.6" cy="110.3" r="1.95" fill="#9ebeff"/>
<circle cx="196.4" cy="109.2" r="1.95" fill="#7295f4"/>
<circle cx="199.1" cy="99.1" r="1.95" fill="#dcdddd"/>
<circle cx="211.3" cy="100.7" r="1.95" fill="#e0dbd8"/>
<circle cx="208.4" cy="110.6" r="1.95" fill="#4961d2"/>
<circle cx="209.5" cy="123.9" r="1.95" fill="#6180e9"/>
<circle cx="205.4" cy="126.0" r="1.95" fill="#5977e3"/>
<circle cx="202.6" cy="127.3" r="1.95" fill="#5977e3"/>
<circle cx="206.0" cy="131.1" r="1.95" fill="#7295f4"/>
<circle cx="221.8" cy="78.2" r="1.95" fill="#f49a7b"/>
<circle cx="228.4" cy="81.5" r="1.95" fill="#c0d4f5"/>
<circle cx="224.0" cy="84.5" r="1.95" fill="#f2cbb7"/>
<circle cx="221.3" cy="92.3" r="1.95" fill="#dcdddd"/>
<circle cx="199.4" cy="86.9" r="1.95" fill="#8caffe"/>
<circle cx="221.0" cy="135.8" r="1.95" fill="#6180e9"/>
<circle cx="150.6" cy="126.4" r="1.95" fill="#5977e3"/>
</g>
<g stroke="#15151f" stroke-width="0.7">
<circle cx="314.1" cy="28.9" r="1.95" fill="#6a8bef"/>
<circle cx="318.5" cy="27.3" r="1.95" fill="#5977e3"/>
<circle cx="319.7" cy="31.3" r="1.95" fill="#7b9ff9"/>
<circle cx="292.0" cy="38.2" r="1.95" fill="#5977e3"/>
<circle cx="306.6" cy="41.2" r="1.95" fill="#cfdaea"/>
<circle cx="304.9" cy="47.2" r="1.95" fill="#9ebeff"/>
<circle cx="319.7" cy="51.6" r="1.95" fill="#c0d4f5"/>
<circle cx="288.7" cy="59.2" r="1.95" fill="#4257c9"/>
<circle cx="296.4" cy="62.2" r="1.95" fill="#5977e3"/>
<circle cx="326.7" cy="62.3" r="1.95" fill="#dcdddd"/>
<circle cx="334.6" cy="63.0" r="1.95" fill="#9ebeff"/>
<circle cx="340.6" cy="26.8" r="1.95" fill="#8caffe"/>
<circle cx="343.9" cy="26.4" r="1.95" fill="#7b9ff9"/>
<circle cx="349.3" cy="27.1" r="1.95" fill="#8caffe"/>
<circle cx="346.0" cy="35.8" r="1.95" fill="#7b9ff9"/>
<circle cx="347.6" cy="34.6" r="1.95" fill="#7b9ff9"/>
<circle cx="339.8" cy="41.0" r="1.95" fill="#6a8bef"/>
<circle cx="358.5" cy="33.8" r="1.95" fill="#7b9ff9"/>
<circle cx="366.8" cy="29.7" r="1.95" fill="#4257c9"/>
<circle cx="367.3" cy="51.9" r="1.95" fill="#6a8bef"/>
<circle cx="369.8" cy="33.8" r="1.95" fill="#6a8bef"/>
<circle cx="382.4" cy="40.2" r="1.95" fill="#6a8bef"/>
<circle cx="372.6" cy="46.7" r="1.95" fill="#7b9ff9"/>
<circle cx="389.4" cy="46.4" r="1.95" fill="#5977e3"/>
<circle cx="383.9" cy="56.0" r="1.95" fill="#6a8bef"/>
<circle cx="369.3" cy="64.0" r="1.95" fill="#5977e3"/>
<circle cx="367.5" cy="66.4" r="1.95" fill="#5977e3"/>
<circle cx="378.8" cy="66.9" r="1.95" fill="#7b9ff9"/>
<circle cx="402.0" cy="31.7" r="1.95" fill="#9ebeff"/>
<circle cx="400.5" cy="35.4" r="1.95" fill="#afcafc"/>
<circle cx="399.2" cy="58.1" r="1.95" fill="#5977e3"/>
<circle cx="402.8" cy="65.6" r="1.95" fill="#4257c9"/>
<circle cx="413.6" cy="44.3" r="1.95" fill="#afcafc"/>
<circle cx="410.2" cy="48.4" r="1.95" fill="#7b9ff9"/>
<circle cx="411.2" cy="67.5" r="1.95" fill="#8caffe"/>
<circle cx="413.5" cy="69.7" r="1.95" fill="#4257c9"/>
<circle cx="431.5" cy="46.7" r="1.95" fill="#f4c5ad"/>
<circle cx="447.3" cy="48.7" r="1.95" fill="#f4c5ad"/>
<circle cx="425.6" cy="55.6" r="1.95" fill="#c0d4f5"/>
<circle cx="425.1" cy="63.1" r="1.95" fill="#e9d5cb"/>
<circle cx="431.9" cy="67.5" r="1.95" fill="#7b9ff9"/>
<circle cx="480.0" cy="54.6" r="1.95" fill="#afcafc"/>
<circle cx="484.0" cy="57.0" r="1.95" fill="#cfdaea"/>
<circle cx="500.4" cy="44.3" r="1.95" fill="#e9d5cb"/>
<circle cx="496.3" cy="50.2" r="1.95" fill="#dcdddd"/>
<circle cx="495.0" cy="58.1" r="1.95" fill="#8caffe"/>
<circle cx="478.8" cy="67.7" r="1.95" fill="#c0d4f5"/>
<circle cx="484.5" cy="67.2" r="1.95" fill="#afcafc"/>
<circle cx="300.0" cy="76.8" r="1.95" fill="#cfdaea"/>
<circle cx="296.4" cy="78.9" r="1.95" fill="#5977e3"/>
<circle cx="300.5" cy="81.0" r="1.95" fill="#ee8468"/>
<circle cx="303.0" cy="80.0" r="1.95" fill="#f6a385"/>
<circle cx="303.8" cy="83.4" r="1.95" fill="#dcdddd"/>
<circle cx="291.5" cy="85.0" r="1.95" fill="#7b9ff9"/>
<circle cx="293.6" cy="94.5" r="1.95" fill="#5977e3"/>
<circle cx="311.2" cy="89.6" r="1.95" fill="#f4c5ad"/>
<circle cx="312.3" cy="91.3" r="1.95" fill="#f4c5ad"/>
<circle cx="315.6" cy="90.5" r="1.95" fill="#f6a385"/>
<circle cx="311.6" cy="96.2" r="1.95" fill="#afcafc"/>
<circle cx="313.3" cy="101.1" r="1.95" fill="#9ebeff"/>
<circle cx="312.0" cy="106.7" r="1.95" fill="#8caffe"/>
<circle cx="323.9" cy="80.0" r="1.95" fill="#afcafc"/>
<circle cx="323.1" cy="85.5" r="1.95" fill="#dcdddd"/>
<circle cx="325.1" cy="87.5" r="1.95" fill="#7b9ff9"/>
<circle cx="324.7" cy="90.0" r="1.95" fill="#e9d5cb"/>
<circle cx="328.7" cy="81.8" r="1.95" fill="#f4c5ad"/>
<circle cx="329.2" cy="85.5" r="1.95" fill="#afcafc"/>
<circle cx="329.6" cy="89.6" r="1.95" fill="#f4c5ad"/>
<circle cx="330.3" cy="77.6" r="1.95" fill="#dcdddd"/>
<circle cx="333.2" cy="75.5" r="1.95" fill="#6a8bef"/>
<circle cx="333.7" cy="88.3" r="1.95" fill="#5977e3"/>
<circle cx="334.9" cy="77.6" r="1.95" fill="#7b9ff9"/>
<circle cx="337.8" cy="76.8" r="1.95" fill="#7b9ff9"/>
<circle cx="339.8" cy="72.7" r="1.95" fill="#afcafc"/>
<circle cx="340.6" cy="74.8" r="1.95" fill="#afcafc"/>
<circle cx="339.5" cy="80.6" r="1.95" fill="#9ebeff"/>
<circle cx="344.4" cy="73.2" r="1.95" fill="#f4c5ad"/>
<circle cx="346.0" cy="74.3" r="1.95" fill="#9ebeff"/>
<circle cx="343.1" cy="85.0" r="1.95" fill="#7b9ff9"/>
<circle cx="343.6" cy="87.5" r="1.95" fill="#4257c9"/>
<circle cx="341.9" cy="89.6" r="1.95" fill="#dcdddd"/>
<circle cx="345.8" cy="91.6" r="1.95" fill="#dcdddd"/>
<circle cx="350.4" cy="84.7" r="1.95" fill="#dcdddd"/>
<circle cx="364.3" cy="72.5" r="1.95" fill="#6a8bef"/>
<circle cx="366.7" cy="90.5" r="1.95" fill="#c0d4f5"/>
<circle cx="353.6" cy="100.3" r="1.95" fill="#9ebeff"/>
<circle cx="356.2" cy="99.4" r="1.95" fill="#afcafc"/>
<circle cx="351.7" cy="106.5" r="1.95" fill="#5977e3"/>
<circle cx="350.9" cy="109.0" r="1.95" fill="#ee8468"/>
<circle cx="357.8" cy="110.5" r="1.95" fill="#7b9ff9"/>
<circle cx="350.4" cy="118.7" r="1.95" fill="#7b9ff9"/>
<circle cx="365.7" cy="115.2" r="1.95" fill="#8caffe"/>
<circle cx="334.1" cy="121.7" r="1.95" fill="#6a8bef"/>
<circle cx="376.2" cy="98.4" r="1.95" fill="#cfdaea"/>
<circle cx="373.5" cy="106.6" r="1.95" fill="#7b9ff9"/>
<circle cx="367.7" cy="115.1" r="1.95" fill="#8caffe"/>
<circle cx="369.7" cy="113.2" r="1.95" fill="#6a8bef"/>
<circle cx="370.5" cy="115.1" r="1.95" fill="#6a8bef"/>
<circle cx="373.0" cy="115.1" r="1.95" fill="#6a8bef"/>
<circle cx="368.9" cy="126.3" r="1.95" fill="#8caffe"/>
<circle cx="383.5" cy="116.8" r="1.95" fill="#7b9ff9"/>
<circle cx="386.6" cy="113.5" r="1.95" fill="#7b9ff9"/>
<circle cx="392.4" cy="104.7" r="1.95" fill="#5977e3"/>
<circle cx="396.8" cy="101.7" r="1.95" fill="#6a8bef"/>
<circle cx="381.5" cy="124.5" r="1.95" fill="#7b9ff9"/>
<circle cx="380.0" cy="127.3" r="1.95" fill="#f4c5ad"/>
<circle cx="391.2" cy="123.9" r="1.95" fill="#5977e3"/>
<circle cx="397.3" cy="128.5" r="1.95" fill="#5977e3"/>
<circle cx="383.1" cy="140.8" r="1.95" fill="#cfdaea"/>
<circle cx="392.1" cy="150.8" r="1.95" fill="#5977e3"/>
<circle cx="377.1" cy="76.3" r="1.95" fill="#5977e3"/>
<circle cx="387.5" cy="80.4" r="1.95" fill="#8caffe"/>
<circle cx="398.1" cy="75.4" r="1.95" fill="#5977e3"/>
<circle cx="400.1" cy="74.2" r="1.95" fill="#5977e3"/>
<circle cx="400.9" cy="81.2" r="1.95" fill="#9ebeff"/>
<circle cx="405.5" cy="85.0" r="1.95" fill="#7b9ff9"/>
<circle cx="411.5" cy="77.5" r="1.95" fill="#6a8bef"/>
<circle cx="410.4" cy="86.1" r="1.95" fill="#7b9ff9"/>
<circle cx="410.7" cy="91.0" r="1.95" fill="#8caffe"/>
<circle cx="408.2" cy="94.3" r="1.95" fill="#6a8bef"/>
<circle cx="418.9" cy="83.7" r="1.95" fill="#6a8bef"/>
<circle cx="428.1" cy="76.3" r="1.95" fill="#c0d4f5"/>
<circle cx="434.7" cy="77.8" r="1.95" fill="#6a8bef"/>
<circle cx="443.2" cy="83.9" r="1.95" fill="#6a8bef"/>
<circle cx="421.0" cy="92.8" r="1.95" fill="#8caffe"/>
<circle cx="418.9" cy="96.5" r="1.95" fill="#7b9ff9"/>
<circle cx="429.1" cy="97.1" r="1.95" fill="#6a8bef"/>
<circle cx="421.2" cy="103.1" r="1.95" fill="#6a8bef"/>
<circle cx="415.9" cy="106.8" r="1.95" fill="#5977e3"/>
<circle cx="445.8" cy="93.3" r="1.95" fill="#5977e3"/>
<circle cx="427.7" cy="105.9" r="1.95" fill="#7b9ff9"/>
<circle cx="425.5" cy="109.1" r="1.95" fill="#6a8bef"/>
<circle cx="432.3" cy="108.4" r="1.95" fill="#6a8bef"/>
<circle cx="420.4" cy="112.2" r="1.95" fill="#5977e3"/>
<circle cx="423.9" cy="112.2" r="1.95" fill="#4257c9"/>
<circle cx="427.1" cy="111.9" r="1.95" fill="#5977e3"/>
<circle cx="430.5" cy="111.9" r="1.95" fill="#6a8bef"/>
<circle cx="424.9" cy="115.1" r="1.95" fill="#4257c9"/>
<circle cx="427.7" cy="115.7" r="1.95" fill="#5977e3"/>
<circle cx="425.5" cy="118.9" r="1.95" fill="#5977e3"/>
<circle cx="427.7" cy="119.5" r="1.95" fill="#afcafc"/>
<circle cx="435.5" cy="115.5" r="1.95" fill="#6a8bef"/>
<circle cx="438.5" cy="117.9" r="1.95" fill="#cfdaea"/>
<circle cx="434.9" cy="122.0" r="1.95" fill="#6a8bef"/>
<circle cx="439.0" cy="121.1" r="1.95" fill="#6a8bef"/>
<circle cx="443.6" cy="120.8" r="1.95" fill="#5977e3"/>
<circle cx="445.6" cy="121.1" r="1.95" fill="#5977e3"/>
<circle cx="450.8" cy="120.4" r="1.95" fill="#7b9ff9"/>
<circle cx="442.8" cy="128.2" r="1.95" fill="#5977e3"/>
<circle cx="439.0" cy="107.8" r="1.95" fill="#5977e3"/>
<circle cx="443.4" cy="105.9" r="1.95" fill="#5977e3"/>
<circle cx="445.6" cy="106.7" r="1.95" fill="#6a8bef"/>
<circle cx="447.5" cy="105.1" r="1.95" fill="#4257c9"/>
<circle cx="441.8" cy="111.5" r="1.95" fill="#7b9ff9"/>
<circle cx="445.0" cy="110.8" r="1.95" fill="#7b9ff9"/>
<circle cx="448.8" cy="109.7" r="1.95" fill="#6a8bef"/>
<circle cx="451.5" cy="99.6" r="1.95" fill="#9ebeff"/>
<circle cx="463.7" cy="101.2" r="1.95" fill="#afcafc"/>
<circle cx="460.8" cy="111.1" r="1.95" fill="#4257c9"/>
<circle cx="461.9" cy="124.4" r="1.95" fill="#6a8bef"/>
<circle cx="457.8" cy="126.5" r="1.95" fill="#6a8bef"/>
<circle cx="455.0" cy="127.8" r="1.95" fill="#5977e3"/>
<circle cx="458.4" cy="131.6" r="1.95" fill="#6a8bef"/>
<circle cx="474.2" cy="78.6" r="1.95" fill="#dcdddd"/>
<circle cx="480.8" cy="82.0" r="1.95" fill="#7b9ff9"/>
<circle cx="476.4" cy="85.0" r="1.95" fill="#dcdddd"/>
<circle cx="473.7" cy="92.8" r="1.95" fill="#8caffe"/>
<circle cx="451.8" cy="87.4" r="1.95" fill="#5977e3"/>
<circle cx="473.4" cy="136.3" r="1.95" fill="#5977e3"/>
<circle cx="403.1" cy="126.9" r="1.95" fill="#5977e3"/>
</g>
<g stroke="#15151f" stroke-width="0.7">
<circle cx="62.5" cy="198.5" r="1.95" fill="#7ad151"/>
<circle cx="66.9" cy="196.9" r="1.95" fill="#25ab82"/>
<circle cx="68.1" cy="200.9" r="1.95" fill="#297a8e"/>
<circle cx="40.6" cy="207.8" r="1.95" fill="#1f978b"/>
<circle cx="55.1" cy="210.8" r="1.95" fill="#7ad151"/>
<circle cx="53.4" cy="216.7" r="1.95" fill="#7ad151"/>
<circle cx="68.1" cy="221.1" r="1.95" fill="#3fbc73"/>
<circle cx="37.3" cy="228.7" r="1.95" fill="#7ad151"/>
<circle cx="45.0" cy="231.7" r="1.95" fill="#bddf26"/>
<circle cx="75.0" cy="231.8" r="1.95" fill="#1f978b"/>
<circle cx="82.9" cy="232.5" r="1.95" fill="#25ab82"/>
<circle cx="88.8" cy="196.4" r="1.95" fill="#25ab82"/>
<circle cx="92.1" cy="196.0" r="1.95" fill="#1f978b"/>
<circle cx="97.5" cy="196.7" r="1.95" fill="#1f978b"/>
<circle cx="94.2" cy="205.4" r="1.95" fill="#1f978b"/>
<circle cx="95.8" cy="204.2" r="1.95" fill="#1f978b"/>
<circle cx="88.0" cy="210.6" r="1.95" fill="#3fbc73"/>
<circle cx="106.7" cy="203.4" r="1.95" fill="#25ab82"/>
<circle cx="114.9" cy="199.3" r="1.95" fill="#297a8e"/>
<circle cx="115.4" cy="221.4" r="1.95" fill="#297a8e"/>
<circle cx="117.9" cy="203.4" r="1.95" fill="#25ab82"/>
<circle cx="130.4" cy="209.8" r="1.95" fill="#1f978b"/>
<circle cx="120.7" cy="216.2" r="1.95" fill="#1f978b"/>
<circle cx="137.3" cy="215.9" r="1.95" fill="#25ab82"/>
<circle cx="131.9" cy="225.5" r="1.95" fill="#1f978b"/>
<circle cx="117.4" cy="233.5" r="1.95" fill="#bddf26"/>
<circle cx="115.6" cy="235.9" r="1.95" fill="#bddf26"/>
<circle cx="126.8" cy="236.4" r="1.95" fill="#7ad151"/>
<circle cx="149.8" cy="201.3" r="1.95" fill="#460b5e"/>
<circle cx="148.4" cy="205.0" r="1.95" fill="#bddf26"/>
<circle cx="147.1" cy="227.6" r="1.95" fill="#1f978b"/>
<circle cx="150.6" cy="235.1" r="1.95" fill="#1f978b"/>
<circle cx="161.3" cy="213.9" r="1.95" fill="#1f978b"/>
<circle cx="158.0" cy="217.9" r="1.95" fill="#25ab82"/>
<circle cx="159.0" cy="237.0" r="1.95" fill="#297a8e"/>
<circle cx="161.2" cy="239.2" r="1.95" fill="#fde725"/>
<circle cx="179.2" cy="216.2" r="1.95" fill="#1f978b"/>
<circle cx="194.9" cy="218.2" r="1.95" fill="#1f978b"/>
<circle cx="173.3" cy="225.1" r="1.95" fill="#3fbc73"/>
<circle cx="172.8" cy="232.6" r="1.95" fill="#297a8e"/>
<circle cx="179.6" cy="237.0" r="1.95" fill="#1f978b"/>
<circle cx="227.3" cy="224.1" r="1.95" fill="#1f978b"/>
<circle cx="231.3" cy="226.5" r="1.95" fill="#443a83"/>
<circle cx="247.6" cy="213.9" r="1.95" fill="#25ab82"/>
<circle cx="243.5" cy="219.7" r="1.95" fill="#25ab82"/>
<circle cx="242.2" cy="227.6" r="1.95" fill="#1f978b"/>
<circle cx="226.1" cy="237.2" r="1.95" fill="#297a8e"/>
<circle cx="231.8" cy="236.7" r="1.95" fill="#1f978b"/>
<circle cx="48.5" cy="246.3" r="1.95" fill="#1f978b"/>
<circle cx="45.0" cy="248.4" r="1.95" fill="#3fbc73"/>
<circle cx="49.0" cy="250.3" r="1.95" fill="#7ad151"/>
<circle cx="51.5" cy="249.4" r="1.95" fill="#7ad151"/>
<circle cx="52.3" cy="252.7" r="1.95" fill="#7ad151"/>
<circle cx="40.1" cy="254.3" r="1.95" fill="#297a8e"/>
<circle cx="42.2" cy="263.8" r="1.95" fill="#7ad151"/>
<circle cx="59.6" cy="258.9" r="1.95" fill="#7ad151"/>
<circle cx="60.7" cy="260.6" r="1.95" fill="#7ad151"/>
<circle cx="64.0" cy="259.8" r="1.95" fill="#7ad151"/>
<circle cx="60.0" cy="265.5" r="1.95" fill="#3fbc73"/>
<circle cx="61.7" cy="270.4" r="1.95" fill="#7ad151"/>
<circle cx="60.4" cy="276.0" r="1.95" fill="#7ad151"/>
<circle cx="72.2" cy="249.4" r="1.95" fill="#7ad151"/>
<circle cx="71.5" cy="254.8" r="1.95" fill="#7ad151"/>
<circle cx="73.4" cy="256.8" r="1.95" fill="#7ad151"/>
<circle cx="73.0" cy="259.3" r="1.95" fill="#3fbc73"/>
<circle cx="77.0" cy="251.1" r="1.95" fill="#1f978b"/>
<circle cx="77.5" cy="254.8" r="1.95" fill="#7ad151"/>
<circle cx="77.9" cy="258.9" r="1.95" fill="#7ad151"/>
<circle cx="78.6" cy="247.1" r="1.95" fill="#7ad151"/>
<circle cx="81.5" cy="245.0" r="1.95" fill="#3fbc73"/>
<circle cx="82.0" cy="257.6" r="1.95" fill="#7ad151"/>
<circle cx="83.2" cy="247.1" r="1.95" fill="#1f978b"/>
<circle cx="86.0" cy="246.3" r="1.95" fill="#3fbc73"/>
<circle cx="88.0" cy="242.2" r="1.95" fill="#25ab82"/>
<circle cx="88.8" cy="244.3" r="1.95" fill="#25ab82"/>
<circle cx="87.7" cy="249.9" r="1.95" fill="#3fbc73"/>
<circle cx="92.6" cy="242.7" r="1.95" fill="#25ab82"/>
<circle cx="94.2" cy="243.8" r="1.95" fill="#1f978b"/>
<circle cx="91.3" cy="254.3" r="1.95" fill="#1f978b"/>
<circle cx="91.8" cy="256.8" r="1.95" fill="#1f978b"/>
<circle cx="90.1" cy="258.9" r="1.95" fill="#7ad151"/>
<circle cx="94.0" cy="260.9" r="1.95" fill="#297a8e"/>
<circle cx="98.5" cy="254.0" r="1.95" fill="#25ab82"/>
<circle cx="112.4" cy="242.0" r="1.95" fill="#3fbc73"/>
<circle cx="114.8" cy="259.8" r="1.95" fill="#25ab82"/>
<circle cx="101.7" cy="269.6" r="1.95" fill="#1f978b"/>
<circle cx="104.4" cy="268.7" r="1.95" fill="#25ab82"/>
<circle cx="99.8" cy="275.8" r="1.95" fill="#1f978b"/>
<circle cx="99.0" cy="278.3" r="1.95" fill="#bddf26"/>
<circle cx="106.0" cy="279.8" r="1.95" fill="#7ad151"/>
<circle cx="98.5" cy="287.9" r="1.95" fill="#bddf26"/>
<circle cx="113.8" cy="284.4" r="1.95" fill="#bddf26"/>
<circle cx="82.4" cy="290.9" r="1.95" fill="#7ad151"/>
<circle cx="124.2" cy="267.7" r="1.95" fill="#1f978b"/>
<circle cx="121.6" cy="275.9" r="1.95" fill="#1f978b"/>
<circle cx="115.8" cy="284.3" r="1.95" fill="#bddf26"/>
<circle cx="117.8" cy="282.5" r="1.95" fill="#7ad151"/>
<circle cx="118.6" cy="284.3" r="1.95" fill="#7ad151"/>
<circle cx="121.1" cy="284.3" r="1.95" fill="#7ad151"/>
<circle cx="117.0" cy="295.5" r="1.95" fill="#7ad151"/>
<circle cx="131.5" cy="286.0" r="1.95" fill="#25ab82"/>
<circle cx="134.6" cy="282.8" r="1.95" fill="#375a8c"/>
<circle cx="140.3" cy="274.0" r="1.95" fill="#1f978b"/>
<circle cx="144.7" cy="271.0" r="1.95" fill="#3fbc73"/>
<circle cx="129.5" cy="293.7" r="1.95" fill="#7ad151"/>
<circle cx="128.0" cy="296.5" r="1.95" fill="#7ad151"/>
<circle cx="139.1" cy="293.1" r="1.95" fill="#1f978b"/>
<circle cx="145.2" cy="297.7" r="1.95" fill="#375a8c"/>
<circle cx="131.1" cy="310.0" r="1.95" fill="#3fbc73"/>
<circle cx="140.0" cy="319.9" r="1.95" fill="#3fbc73"/>
<circle cx="125.1" cy="245.8" r="1.95" fill="#25ab82"/>
<circle cx="135.5" cy="249.7" r="1.95" fill="#25ab82"/>
<circle cx="146.0" cy="244.9" r="1.95" fill="#bddf26"/>
<circle cx="148.0" cy="243.7" r="1.95" fill="#bddf26"/>
<circle cx="148.7" cy="250.5" r="1.95" fill="#25ab82"/>
<circle cx="153.3" cy="254.3" r="1.95" fill="#1f978b"/>
<circle cx="159.3" cy="247.0" r="1.95" fill="#297a8e"/>
<circle cx="158.2" cy="255.4" r="1.95" fill="#443a83"/>
<circle cx="158.5" cy="260.3" r="1.95" fill="#1f978b"/>
<circle cx="156.0" cy="263.6" r="1.95" fill="#375a8c"/>
<circle cx="166.6" cy="253.0" r="1.95" fill="#1f978b"/>
<circle cx="175.8" cy="245.8" r="1.95" fill="#7ad151"/>
<circle cx="182.4" cy="247.3" r="1.95" fill="#297a8e"/>
<circle cx="190.8" cy="253.2" r="1.95" fill="#1f978b"/>
<circle cx="168.7" cy="262.1" r="1.95" fill="#1f978b"/>
<circle cx="166.6" cy="265.8" r="1.95" fill="#1f978b"/>
<circle cx="176.8" cy="266.4" r="1.95" fill="#7ad151"/>
<circle cx="168.9" cy="272.4" r="1.95" fill="#1f978b"/>
<circle cx="163.6" cy="276.1" r="1.95" fill="#3fbc73"/>
<circle cx="193.4" cy="262.6" r="1.95" fill="#1f978b"/>
<circle cx="175.3" cy="275.2" r="1.95" fill="#7ad151"/>
<circle cx="173.2" cy="278.4" r="1.95" fill="#297a8e"/>
<circle cx="180.0" cy="277.7" r="1.95" fill="#1f978b"/>
<circle cx="168.1" cy="281.5" r="1.95" fill="#297a8e"/>
<circle cx="171.6" cy="281.5" r="1.95" fill="#297a8e"/>
<circle cx="174.7" cy="281.2" r="1.95" fill="#25ab82"/>
<circle cx="178.2" cy="281.2" r="1.95" fill="#25ab82"/>
<circle cx="172.6" cy="284.3" r="1.95" fill="#297a8e"/>
<circle cx="175.3" cy="284.9" r="1.95" fill="#3fbc73"/>
<circle cx="173.2" cy="288.1" r="1.95" fill="#297a8e"/>
<circle cx="175.3" cy="288.7" r="1.95" fill="#297a8e"/>
<circle cx="183.2" cy="284.7" r="1.95" fill="#1f978b"/>
<circle cx="186.2" cy="287.1" r="1.95" fill="#7ad151"/>
<circle cx="182.6" cy="291.2" r="1.95" fill="#297a8e"/>
<circle cx="186.6" cy="290.3" r="1.95" fill="#1f978b"/>
<circle cx="191.2" cy="290.0" r="1.95" fill="#297a8e"/>
<circle cx="193.2" cy="290.3" r="1.95" fill="#3fbc73"/>
<circle cx="198.4" cy="289.6" r="1.95" fill="#1f978b"/>
<circle cx="190.4" cy="297.4" r="1.95" fill="#1f978b"/>
<circle cx="186.6" cy="277.1" r="1.95" fill="#1f978b"/>
<circle cx="191.0" cy="275.2" r="1.95" fill="#3fbc73"/>
<circle cx="193.2" cy="276.0" r="1.95" fill="#1f978b"/>
<circle cx="195.1" cy="274.4" r="1.95" fill="#25ab82"/>
<circle cx="189.4" cy="280.8" r="1.95" fill="#297a8e"/>
<circle cx="192.6" cy="280.1" r="1.95" fill="#297a8e"/>
<circle cx="196.4" cy="279.0" r="1.95" fill="#1f978b"/>
<circle cx="199.1" cy="268.9" r="1.95" fill="#297a8e"/>
<circle cx="211.2" cy="270.5" r="1.95" fill="#1f978b"/>
<circle cx="208.3" cy="280.4" r="1.95" fill="#3fbc73"/>
<circle cx="209.4" cy="293.6" r="1.95" fill="#7ad151"/>
<circle cx="205.3" cy="295.7" r="1.95" fill="#25ab82"/>
<circle cx="202.5" cy="297.0" r="1.95" fill="#bddf26"/>
<circle cx="205.9" cy="300.8" r="1.95" fill="#bddf26"/>
<circle cx="221.6" cy="248.1" r="1.95" fill="#297a8e"/>
<circle cx="228.1" cy="251.3" r="1.95" fill="#25ab82"/>
<circle cx="223.8" cy="254.3" r="1.95" fill="#25ab82"/>
<circle cx="221.1" cy="262.1" r="1.95" fill="#1f978b"/>
<circle cx="199.3" cy="256.7" r="1.95" fill="#1f978b"/>
<circle cx="220.8" cy="305.5" r="1.95" fill="#7ad151"/>
<circle cx="150.9" cy="296.1" r="1.95" fill="#375a8c"/>
</g>
<g stroke="#15151f" stroke-width="0.7">
<circle cx="314.5" cy="198.9" r="1.95" fill="#3fbc73"/>
<circle cx="318.9" cy="197.3" r="1.95" fill="#1f978b"/>
<circle cx="320.1" cy="201.3" r="1.95" fill="#297a8e"/>
<circle cx="292.6" cy="208.1" r="1.95" fill="#297a8e"/>
<circle cx="307.1" cy="211.1" r="1.95" fill="#25ab82"/>
<circle cx="305.4" cy="217.1" r="1.95" fill="#7ad151"/>
<circle cx="320.1" cy="221.4" r="1.95" fill="#1f978b"/>
<circle cx="289.4" cy="229.0" r="1.95" fill="#3fbc73"/>
<circle cx="297.0" cy="231.9" r="1.95" fill="#fde725"/>
<circle cx="327.0" cy="232.0" r="1.95" fill="#297a8e"/>
<circle cx="334.8" cy="232.7" r="1.95" fill="#1f978b"/>
<circle cx="340.8" cy="196.8" r="1.95" fill="#7ad151"/>
<circle cx="344.1" cy="196.4" r="1.95" fill="#7ad151"/>
<circle cx="349.4" cy="197.1" r="1.95" fill="#297a8e"/>
<circle cx="346.1" cy="205.7" r="1.95" fill="#3fbc73"/>
<circle cx="347.7" cy="204.6" r="1.95" fill="#7ad151"/>
<circle cx="340.0" cy="210.9" r="1.95" fill="#25ab82"/>
<circle cx="358.6" cy="203.8" r="1.95" fill="#25ab82"/>
<circle cx="366.9" cy="199.7" r="1.95" fill="#1f978b"/>
<circle cx="367.4" cy="221.7" r="1.95" fill="#1f978b"/>
<circle cx="369.8" cy="203.8" r="1.95" fill="#1f978b"/>
<circle cx="382.3" cy="210.1" r="1.95" fill="#25ab82"/>
<circle cx="372.6" cy="216.6" r="1.95" fill="#1f978b"/>
<circle cx="389.3" cy="216.3" r="1.95" fill="#3fbc73"/>
<circle cx="383.8" cy="225.8" r="1.95" fill="#25ab82"/>
<circle cx="369.3" cy="233.7" r="1.95" fill="#7ad151"/>
<circle cx="367.6" cy="236.1" r="1.95" fill="#3fbc73"/>
<circle cx="378.8" cy="236.6" r="1.95" fill="#3fbc73"/>
<circle cx="401.8" cy="201.7" r="1.95" fill="#1f978b"/>
<circle cx="400.3" cy="205.4" r="1.95" fill="#7ad151"/>
<circle cx="399.0" cy="227.9" r="1.95" fill="#1f978b"/>
<circle cx="402.5" cy="235.3" r="1.95" fill="#25ab82"/>
<circle cx="413.3" cy="214.2" r="1.95" fill="#25ab82"/>
<circle cx="409.9" cy="218.2" r="1.95" fill="#25ab82"/>
<circle cx="410.9" cy="237.2" r="1.95" fill="#297a8e"/>
<circle cx="413.2" cy="239.4" r="1.95" fill="#fde725"/>
<circle cx="431.1" cy="216.6" r="1.95" fill="#1f978b"/>
<circle cx="446.8" cy="218.5" r="1.95" fill="#25ab82"/>
<circle cx="425.1" cy="225.4" r="1.95" fill="#3fbc73"/>
<circle cx="424.6" cy="232.8" r="1.95" fill="#297a8e"/>
<circle cx="431.5" cy="237.2" r="1.95" fill="#297a8e"/>
<circle cx="479.2" cy="224.4" r="1.95" fill="#25ab82"/>
<circle cx="483.1" cy="226.8" r="1.95" fill="#443a83"/>
<circle cx="499.4" cy="214.2" r="1.95" fill="#1f978b"/>
<circle cx="495.3" cy="220.0" r="1.95" fill="#297a8e"/>
<circle cx="494.0" cy="227.9" r="1.95" fill="#1f978b"/>
<circle cx="478.0" cy="237.4" r="1.95" fill="#7ad151"/>
<circle cx="483.6" cy="236.9" r="1.95" fill="#1f978b"/>
<circle cx="300.6" cy="246.4" r="1.95" fill="#1f978b"/>
<circle cx="297.0" cy="248.5" r="1.95" fill="#25ab82"/>
<circle cx="301.0" cy="250.5" r="1.95" fill="#1f978b"/>
<circle cx="303.5" cy="249.6" r="1.95" fill="#1f978b"/>
<circle cx="304.3" cy="252.9" r="1.95" fill="#25ab82"/>
<circle cx="292.1" cy="254.5" r="1.95" fill="#25ab82"/>
<circle cx="294.2" cy="263.9" r="1.95" fill="#7ad151"/>
<circle cx="311.7" cy="259.0" r="1.95" fill="#7ad151"/>
<circle cx="312.7" cy="260.7" r="1.95" fill="#7ad151"/>
<circle cx="316.0" cy="259.9" r="1.95" fill="#3fbc73"/>
<circle cx="312.1" cy="265.6" r="1.95" fill="#7ad151"/>
<circle cx="313.7" cy="270.4" r="1.95" fill="#fde725"/>
<circle cx="312.4" cy="276.0" r="1.95" fill="#bddf26"/>
<circle cx="324.2" cy="249.6" r="1.95" fill="#3fbc73"/>
<circle cx="323.4" cy="255.0" r="1.95" fill="#297a8e"/>
<circle cx="325.4" cy="256.9" r="1.95" fill="#3fbc73"/>
<circle cx="325.0" cy="259.4" r="1.95" fill="#7ad151"/>
<circle cx="329.0" cy="251.3" r="1.95" fill="#375a8c"/>
<circle cx="329.5" cy="255.0" r="1.95" fill="#25ab82"/>
<circle cx="329.9" cy="259.0" r="1.95" fill="#1f978b"/>
<circle cx="330.6" cy="247.2" r="1.95" fill="#3fbc73"/>
<circle cx="333.5" cy="245.1" r="1.95" fill="#3fbc73"/>
<circle cx="334.0" cy="257.7" r="1.95" fill="#7ad151"/>
<circle cx="335.1" cy="247.2" r="1.95" fill="#3fbc73"/>
<circle cx="338.0" cy="246.4" r="1.95" fill="#3fbc73"/>
<circle cx="340.0" cy="242.4" r="1.95" fill="#1f978b"/>
<circle cx="340.8" cy="244.4" r="1.95" fill="#1f978b"/>
<circle cx="339.7" cy="250.1" r="1.95" fill="#7ad151"/>
<circle cx="344.6" cy="242.9" r="1.95" fill="#25ab82"/>
<circle cx="346.1" cy="243.9" r="1.95" fill="#1f978b"/>
<circle cx="343.3" cy="254.5" r="1.95" fill="#25ab82"/>
<circle cx="343.8" cy="256.9" r="1.95" fill="#25ab82"/>
<circle cx="342.1" cy="259.0" r="1.95" fill="#25ab82"/>
<circle cx="345.9" cy="261.0" r="1.95" fill="#1f978b"/>
<circle cx="350.5" cy="254.2" r="1.95" fill="#25ab82"/>
<circle cx="364.4" cy="242.2" r="1.95" fill="#7ad151"/>
<circle cx="366.8" cy="259.9" r="1.95" fill="#3fbc73"/>
<circle cx="353.7" cy="269.6" r="1.95" fill="#1f978b"/>
<circle cx="356.4" cy="268.7" r="1.95" fill="#25ab82"/>
<circle cx="351.8" cy="275.8" r="1.95" fill="#3fbc73"/>
<circle cx="351.0" cy="278.3" r="1.95" fill="#7ad151"/>
<circle cx="357.9" cy="279.8" r="1.95" fill="#3fbc73"/>
<circle cx="350.5" cy="287.9" r="1.95" fill="#25ab82"/>
<circle cx="365.8" cy="284.4" r="1.95" fill="#bddf26"/>
<circle cx="334.4" cy="290.9" r="1.95" fill="#7ad151"/>
<circle cx="376.2" cy="267.8" r="1.95" fill="#3fbc73"/>
<circle cx="373.5" cy="275.9" r="1.95" fill="#25ab82"/>
<circle cx="367.8" cy="284.3" r="1.95" fill="#7ad151"/>
<circle cx="369.7" cy="282.4" r="1.95" fill="#3fbc73"/>
<circle cx="370.5" cy="284.3" r="1.95" fill="#3fbc73"/>
<circle cx="373.0" cy="284.3" r="1.95" fill="#bddf26"/>
<circle cx="368.9" cy="295.4" r="1.95" fill="#bddf26"/>
<circle cx="383.4" cy="286.0" r="1.95" fill="#7ad151"/>
<circle cx="386.5" cy="282.7" r="1.95" fill="#297a8e"/>
<circle cx="392.2" cy="274.0" r="1.95" fill="#3fbc73"/>
<circle cx="396.6" cy="271.0" r="1.95" fill="#3fbc73"/>
<circle cx="381.4" cy="293.6" r="1.95" fill="#7ad151"/>
<circle cx="379.9" cy="296.4" r="1.95" fill="#7ad151"/>
<circle cx="391.0" cy="293.1" r="1.95" fill="#25ab82"/>
<circle cx="397.1" cy="297.6" r="1.95" fill="#460b5e"/>
<circle cx="383.0" cy="309.8" r="1.95" fill="#bddf26"/>
<circle cx="391.9" cy="319.7" r="1.95" fill="#3fbc73"/>
<circle cx="377.1" cy="245.9" r="1.95" fill="#25ab82"/>
<circle cx="387.4" cy="249.9" r="1.95" fill="#1f978b"/>
<circle cx="397.9" cy="245.0" r="1.95" fill="#3fbc73"/>
<circle cx="399.9" cy="243.8" r="1.95" fill="#3fbc73"/>
<circle cx="400.7" cy="250.7" r="1.95" fill="#25ab82"/>
<circle cx="405.2" cy="254.5" r="1.95" fill="#1f978b"/>
<circle cx="411.2" cy="247.1" r="1.95" fill="#1f978b"/>
<circle cx="410.1" cy="255.6" r="1.95" fill="#297a8e"/>
<circle cx="410.4" cy="260.4" r="1.95" fill="#25ab82"/>
<circle cx="407.9" cy="263.7" r="1.95" fill="#25ab82"/>
<circle cx="418.5" cy="253.2" r="1.95" fill="#1f978b"/>
<circle cx="427.7" cy="245.9" r="1.95" fill="#25ab82"/>
<circle cx="434.3" cy="247.4" r="1.95" fill="#25ab82"/>
<circle cx="442.7" cy="253.4" r="1.95" fill="#1f978b"/>
<circle cx="420.6" cy="262.2" r="1.95" fill="#297a8e"/>
<circle cx="418.5" cy="265.9" r="1.95" fill="#297a8e"/>
<circle cx="428.7" cy="266.5" r="1.95" fill="#7ad151"/>
<circle cx="420.8" cy="272.4" r="1.95" fill="#25ab82"/>
<circle cx="415.5" cy="276.1" r="1.95" fill="#25ab82"/>
<circle cx="445.3" cy="262.7" r="1.95" fill="#25ab82"/>
<circle cx="427.2" cy="275.2" r="1.95" fill="#7ad151"/>
<circle cx="425.0" cy="278.4" r="1.95" fill="#297a8e"/>
<circle cx="431.9" cy="277.7" r="1.95" fill="#1f978b"/>
<circle cx="420.0" cy="281.4" r="1.95" fill="#1f978b"/>
<circle cx="423.5" cy="281.4" r="1.95" fill="#297a8e"/>
<circle cx="426.6" cy="281.1" r="1.95" fill="#25ab82"/>
<circle cx="430.1" cy="281.1" r="1.95" fill="#7ad151"/>
<circle cx="424.5" cy="284.3" r="1.95" fill="#1f978b"/>
<circle cx="427.2" cy="284.9" r="1.95" fill="#1f978b"/>
<circle cx="425.0" cy="288.1" r="1.95" fill="#1f978b"/>
<circle cx="427.2" cy="288.7" r="1.95" fill="#1f978b"/>
<circle cx="435.1" cy="284.7" r="1.95" fill="#3fbc73"/>
<circle cx="438.0" cy="287.1" r="1.95" fill="#3fbc73"/>
<circle cx="434.5" cy="291.2" r="1.95" fill="#25ab82"/>
<circle cx="438.5" cy="290.3" r="1.95" fill="#3fbc73"/>
<circle cx="443.1" cy="290.0" r="1.95" fill="#3fbc73"/>
<circle cx="445.1" cy="290.3" r="1.95" fill="#3fbc73"/>
<circle cx="450.2" cy="289.6" r="1.95" fill="#1f978b"/>
<circle cx="442.3" cy="297.3" r="1.95" fill="#3fbc73"/>
<circle cx="438.5" cy="277.1" r="1.95" fill="#3fbc73"/>
<circle cx="442.9" cy="275.2" r="1.95" fill="#3fbc73"/>
<circle cx="445.1" cy="276.0" r="1.95" fill="#3fbc73"/>
<circle cx="447.0" cy="274.4" r="1.95" fill="#3fbc73"/>
<circle cx="441.3" cy="280.8" r="1.95" fill="#1f978b"/>
<circle cx="444.5" cy="280.1" r="1.95" fill="#1f978b"/>
<circle cx="448.2" cy="279.0" r="1.95" fill="#25ab82"/>
<circle cx="450.9" cy="268.9" r="1.95" fill="#297a8e"/>
<circle cx="463.0" cy="270.5" r="1.95" fill="#25ab82"/>
<circle cx="460.1" cy="280.4" r="1.95" fill="#3fbc73"/>
<circle cx="461.2" cy="293.6" r="1.95" fill="#7ad151"/>
<circle cx="457.2" cy="295.6" r="1.95" fill="#7ad151"/>
<circle cx="454.4" cy="296.9" r="1.95" fill="#bddf26"/>
<circle cx="457.8" cy="300.7" r="1.95" fill="#bddf26"/>
<circle cx="473.4" cy="248.2" r="1.95" fill="#25ab82"/>
<circle cx="480.0" cy="251.5" r="1.95" fill="#bddf26"/>
<circle cx="475.6" cy="254.5" r="1.95" fill="#1f978b"/>
<circle cx="472.9" cy="262.2" r="1.95" fill="#3fbc73"/>
<circle cx="451.2" cy="256.8" r="1.95" fill="#25ab82"/>
<circle cx="472.6" cy="305.4" r="1.95" fill="#fde725"/>
<circle cx="402.8" cy="296.0" r="1.95" fill="#297a8e"/>
</g>
<g stroke="#15151f" stroke-width="0.7">
<circle cx="62.3" cy="373.5" r="1.95" fill="#66c2a5"/>
<circle cx="66.7" cy="371.9" r="1.95" fill="#ffffbe"/>
<circle cx="67.9" cy="375.9" r="1.95" fill="#ffffbe"/>
<circle cx="40.1" cy="382.7" r="1.95" fill="#ffffbe"/>
<circle cx="54.8" cy="385.7" r="1.95" fill="#3387bc"/>
<circle cx="53.1" cy="391.7" r="1.95" fill="#66c2a5"/>
<circle cx="67.9" cy="396.0" r="1.95" fill="#3387bc"/>
<circle cx="36.8" cy="403.6" r="1.95" fill="#e6f598"/>
<circle cx="44.6" cy="406.6" r="1.95" fill="#3387bc"/>
<circle cx="74.9" cy="406.7" r="1.95" fill="#66c2a5"/>
<circle cx="82.8" cy="407.4" r="1.95" fill="#ffffbe"/>
<circle cx="88.9" cy="371.4" r="1.95" fill="#ffffbe"/>
<circle cx="92.2" cy="371.0" r="1.95" fill="#ffffbe"/>
<circle cx="97.6" cy="371.7" r="1.95" fill="#ffffbe"/>
<circle cx="94.3" cy="380.4" r="1.95" fill="#e6f598"/>
<circle cx="95.9" cy="379.2" r="1.95" fill="#ffffbe"/>
<circle cx="88.1" cy="385.5" r="1.95" fill="#aadca4"/>
<circle cx="106.9" cy="378.4" r="1.95" fill="#e6f598"/>
<circle cx="115.2" cy="374.3" r="1.95" fill="#fee08b"/>
<circle cx="115.7" cy="396.3" r="1.95" fill="#ffffbe"/>
<circle cx="118.2" cy="378.4" r="1.95" fill="#ffffbe"/>
<circle cx="130.8" cy="384.7" r="1.95" fill="#ffffbe"/>
<circle cx="121.0" cy="391.2" r="1.95" fill="#fee08b"/>
<circle cx="137.9" cy="390.9" r="1.95" fill="#e6f598"/>
<circle cx="132.3" cy="400.4" r="1.95" fill="#ffffbe"/>
<circle cx="117.7" cy="408.4" r="1.95" fill="#ffffbe"/>
<circle cx="115.9" cy="410.7" r="1.95" fill="#66c2a5"/>
<circle cx="127.2" cy="411.2" r="1.95" fill="#aadca4"/>
<circle cx="150.5" cy="376.3" r="1.95" fill="#9e0142"/>
<circle cx="149.0" cy="380.0" r="1.95" fill="#3387bc"/>
<circle cx="147.7" cy="402.5" r="1.95" fill="#ffffbe"/>
<circle cx="151.3" cy="409.9" r="1.95" fill="#ffffbe"/>
<circle cx="162.1" cy="388.8" r="1.95" fill="#e6f598"/>
<circle cx="158.7" cy="392.9" r="1.95" fill="#aadca4"/>
<circle cx="159.7" cy="411.8" r="1.95" fill="#ffffbe"/>
<circle cx="162.0" cy="414.0" r="1.95" fill="#aadca4"/>
<circle cx="180.2" cy="391.2" r="1.95" fill="#aadca4"/>
<circle cx="196.0" cy="393.2" r="1.95" fill="#e6f598"/>
<circle cx="174.1" cy="400.0" r="1.95" fill="#e6f598"/>
<circle cx="173.6" cy="407.5" r="1.95" fill="#f67a49"/>
<circle cx="180.6" cy="411.8" r="1.95" fill="#fee08b"/>
<circle cx="228.8" cy="399.0" r="1.95" fill="#fdb768"/>
<circle cx="232.8" cy="401.4" r="1.95" fill="#ffffbe"/>
<circle cx="249.2" cy="388.8" r="1.95" fill="#ffffbe"/>
<circle cx="245.1" cy="394.7" r="1.95" fill="#ffffbe"/>
<circle cx="243.8" cy="402.5" r="1.95" fill="#aadca4"/>
<circle cx="227.6" cy="412.0" r="1.95" fill="#ffffbe"/>
<circle cx="233.3" cy="411.5" r="1.95" fill="#66c2a5"/>
<circle cx="48.2" cy="421.1" r="1.95" fill="#ffffbe"/>
<circle cx="44.6" cy="423.2" r="1.95" fill="#66c2a5"/>
<circle cx="48.7" cy="425.1" r="1.95" fill="#3387bc"/>
<circle cx="51.2" cy="424.2" r="1.95" fill="#66c2a5"/>
<circle cx="52.0" cy="427.5" r="1.95" fill="#ffffbe"/>
<circle cx="39.6" cy="429.1" r="1.95" fill="#f67a49"/>
<circle cx="41.7" cy="438.6" r="1.95" fill="#ffffbe"/>
<circle cx="59.4" cy="433.7" r="1.95" fill="#66c2a5"/>
<circle cx="60.5" cy="435.4" r="1.95" fill="#66c2a5"/>
<circle cx="63.8" cy="434.6" r="1.95" fill="#e6f598"/>
<circle cx="59.8" cy="440.2" r="1.95" fill="#aadca4"/>
<circle cx="61.5" cy="445.1" r="1.95" fill="#aadca4"/>
<circle cx="60.2" cy="450.7" r="1.95" fill="#aadca4"/>
<circle cx="72.1" cy="424.2" r="1.95" fill="#aadca4"/>
<circle cx="71.3" cy="429.6" r="1.95" fill="#ffffbe"/>
<circle cx="73.3" cy="431.6" r="1.95" fill="#3387bc"/>
<circle cx="72.9" cy="434.1" r="1.95" fill="#5e4fa2"/>
<circle cx="76.9" cy="425.9" r="1.95" fill="#ffffbe"/>
<circle cx="77.4" cy="429.6" r="1.95" fill="#3387bc"/>
<circle cx="77.8" cy="433.7" r="1.95" fill="#aadca4"/>
<circle cx="78.5" cy="421.9" r="1.95" fill="#aadca4"/>
<circle cx="81.4" cy="419.8" r="1.95" fill="#aadca4"/>
<circle cx="81.9" cy="432.4" r="1.95" fill="#3387bc"/>
<circle cx="83.1" cy="421.9" r="1.95" fill="#3387bc"/>
<circle cx="86.0" cy="421.1" r="1.95" fill="#5e4fa2"/>
<circle cx="88.1" cy="417.0" r="1.95" fill="#66c2a5"/>
<circle cx="88.9" cy="419.1" r="1.95" fill="#66c2a5"/>
<circle cx="87.7" cy="424.7" r="1.95" fill="#ffffbe"/>
<circle cx="92.7" cy="417.5" r="1.95" fill="#aadca4"/>
<circle cx="94.3" cy="418.6" r="1.95" fill="#ffffbe"/>
<circle cx="91.4" cy="429.1" r="1.95" fill="#ffffbe"/>
<circle cx="91.9" cy="431.6" r="1.95" fill="#ffffbe"/>
<circle cx="90.2" cy="433.7" r="1.95" fill="#ffffbe"/>
<circle cx="94.1" cy="435.7" r="1.95" fill="#ffffbe"/>
<circle cx="98.7" cy="428.8" r="1.95" fill="#ffffbe"/>
<circle cx="112.7" cy="416.8" r="1.95" fill="#3387bc"/>
<circle cx="115.1" cy="434.6" r="1.95" fill="#ffffbe"/>
<circle cx="101.9" cy="444.3" r="1.95" fill="#ffffbe"/>
<circle cx="104.6" cy="443.4" r="1.95" fill="#ffffbe"/>
<circle cx="100.0" cy="450.5" r="1.95" fill="#e6f598"/>
<circle cx="99.2" cy="453.0" r="1.95" fill="#e6f598"/>
<circle cx="106.2" cy="454.4" r="1.95" fill="#66c2a5"/>
<circle cx="98.7" cy="462.6" r="1.95" fill="#ffffbe"/>
<circle cx="114.1" cy="459.1" r="1.95" fill="#aadca4"/>
<circle cx="82.3" cy="465.6" r="1.95" fill="#66c2a5"/>
<circle cx="124.6" cy="442.4" r="1.95" fill="#ffffbe"/>
<circle cx="121.9" cy="450.6" r="1.95" fill="#66c2a5"/>
<circle cx="116.1" cy="459.0" r="1.95" fill="#aadca4"/>
<circle cx="118.1" cy="457.1" r="1.95" fill="#aadca4"/>
<circle cx="118.9" cy="459.0" r="1.95" fill="#aadca4"/>
<circle cx="121.4" cy="459.0" r="1.95" fill="#66c2a5"/>
<circle cx="117.3" cy="470.1" r="1.95" fill="#aadca4"/>
<circle cx="131.9" cy="460.7" r="1.95" fill="#ffffbe"/>
<circle cx="135.1" cy="457.4" r="1.95" fill="#fdb768"/>
<circle cx="140.9" cy="448.7" r="1.95" fill="#ffffbe"/>
<circle cx="145.3" cy="445.7" r="1.95" fill="#aadca4"/>
<circle cx="129.9" cy="468.3" r="1.95" fill="#66c2a5"/>
<circle cx="128.4" cy="471.1" r="1.95" fill="#ffffbe"/>
<circle cx="139.7" cy="467.7" r="1.95" fill="#aadca4"/>
<circle cx="145.8" cy="472.3" r="1.95" fill="#ffffbe"/>
<circle cx="131.5" cy="484.5" r="1.95" fill="#aadca4"/>
<circle cx="140.6" cy="494.5" r="1.95" fill="#aadca4"/>
<circle cx="125.5" cy="420.6" r="1.95" fill="#3387bc"/>
<circle cx="136.0" cy="424.5" r="1.95" fill="#aadca4"/>
<circle cx="146.6" cy="419.7" r="1.95" fill="#e6f598"/>
<circle cx="148.6" cy="418.5" r="1.95" fill="#e6f598"/>
<circle cx="149.4" cy="425.3" r="1.95" fill="#ffffbe"/>
<circle cx="154.0" cy="429.1" r="1.95" fill="#ffffbe"/>
<circle cx="160.0" cy="421.8" r="1.95" fill="#ffffbe"/>
<circle cx="158.9" cy="430.2" r="1.95" fill="#ffffbe"/>
<circle cx="159.2" cy="435.1" r="1.95" fill="#f67a49"/>
<circle cx="156.7" cy="438.4" r="1.95" fill="#d43d4f"/>
<circle cx="167.4" cy="427.8" r="1.95" fill="#d43d4f"/>
<circle cx="176.7" cy="420.6" r="1.95" fill="#aadca4"/>
<circle cx="183.4" cy="422.1" r="1.95" fill="#fee08b"/>
<circle cx="191.9" cy="428.0" r="1.95" fill="#f67a49"/>
<circle cx="169.5" cy="436.9" r="1.95" fill="#fee08b"/>
<circle cx="167.4" cy="440.5" r="1.95" fill="#5e4fa2"/>
<circle cx="177.8" cy="441.1" r="1.95" fill="#e6f598"/>
<circle cx="169.7" cy="447.1" r="1.95" fill="#fee08b"/>
<circle cx="164.4" cy="450.8" r="1.95" fill="#fee08b"/>
<circle cx="194.5" cy="437.4" r="1.95" fill="#f67a49"/>
<circle cx="176.2" cy="449.9" r="1.95" fill="#f67a49"/>
<circle cx="174.0" cy="453.0" r="1.95" fill="#ffffbe"/>
<circle cx="181.0" cy="452.4" r="1.95" fill="#d43d4f"/>
<circle cx="168.9" cy="456.1" r="1.95" fill="#ffffbe"/>
<circle cx="172.4" cy="456.1" r="1.95" fill="#fee08b"/>
<circle cx="175.6" cy="455.8" r="1.95" fill="#fee08b"/>
<circle cx="179.2" cy="455.8" r="1.95" fill="#fee08b"/>
<circle cx="173.4" cy="459.0" r="1.95" fill="#f67a49"/>
<circle cx="176.2" cy="459.6" r="1.95" fill="#5e4fa2"/>
<circle cx="174.0" cy="462.8" r="1.95" fill="#f67a49"/>
<circle cx="176.2" cy="463.4" r="1.95" fill="#ffffbe"/>
<circle cx="184.2" cy="459.4" r="1.95" fill="#9e0142"/>
<circle cx="187.2" cy="461.8" r="1.95" fill="#9e0142"/>
<circle cx="183.6" cy="465.9" r="1.95" fill="#fdb768"/>
<circle cx="187.7" cy="465.0" r="1.95" fill="#d43d4f"/>
<circle cx="192.3" cy="464.7" r="1.95" fill="#d43d4f"/>
<circle cx="194.3" cy="465.0" r="1.95" fill="#3387bc"/>
<circle cx="199.5" cy="464.3" r="1.95" fill="#66c2a5"/>
<circle cx="191.5" cy="472.0" r="1.95" fill="#f67a49"/>
<circle cx="187.7" cy="451.8" r="1.95" fill="#fee08b"/>
<circle cx="192.1" cy="449.9" r="1.95" fill="#d43d4f"/>
<circle cx="194.3" cy="450.7" r="1.95" fill="#ffffbe"/>
<circle cx="196.2" cy="449.1" r="1.95" fill="#fdb768"/>
<circle cx="190.5" cy="455.4" r="1.95" fill="#fdb768"/>
<circle cx="193.7" cy="454.7" r="1.95" fill="#fdb768"/>
<circle cx="197.5" cy="453.6" r="1.95" fill="#ffffbe"/>
<circle cx="200.2" cy="443.6" r="1.95" fill="#d43d4f"/>
<circle cx="212.4" cy="445.2" r="1.95" fill="#ffffbe"/>
<circle cx="209.5" cy="455.0" r="1.95" fill="#aadca4"/>
<circle cx="210.6" cy="468.2" r="1.95" fill="#66c2a5"/>
<circle cx="206.5" cy="470.3" r="1.95" fill="#ffffbe"/>
<circle cx="203.7" cy="471.6" r="1.95" fill="#66c2a5"/>
<circle cx="207.1" cy="475.4" r="1.95" fill="#3387bc"/>
<circle cx="223.0" cy="422.9" r="1.95" fill="#d43d4f"/>
<circle cx="229.6" cy="426.1" r="1.95" fill="#f67a49"/>
<circle cx="225.2" cy="429.1" r="1.95" fill="#fdb768"/>
<circle cx="222.5" cy="436.9" r="1.95" fill="#d43d4f"/>
<circle cx="200.5" cy="431.5" r="1.95" fill="#fee08b"/>
<circle cx="222.1" cy="480.1" r="1.95" fill="#66c2a5"/>
<circle cx="151.6" cy="470.7" r="1.95" fill="#f67a49"/>
</g>
<g stroke="#15151f" stroke-width="0.7">
<circle cx="314.9" cy="375.4" r="1.95" fill="#aadca4"/>
<circle cx="319.2" cy="373.8" r="1.95" fill="#ffffbe"/>
<circle cx="320.4" cy="377.7" r="1.95" fill="#f67a49"/>
<circle cx="292.8" cy="384.6" r="1.95" fill="#ffffbe"/>
<circle cx="307.4" cy="387.6" r="1.95" fill="#3387bc"/>
<circle cx="305.7" cy="393.6" r="1.95" fill="#66c2a5"/>
<circle cx="320.4" cy="398.0" r="1.95" fill="#aadca4"/>
<circle cx="289.5" cy="405.6" r="1.95" fill="#66c2a5"/>
<circle cx="297.2" cy="408.6" r="1.95" fill="#66c2a5"/>
<circle cx="327.4" cy="408.7" r="1.95" fill="#ffffbe"/>
<circle cx="335.3" cy="409.4" r="1.95" fill="#d43d4f"/>
<circle cx="341.3" cy="373.3" r="1.95" fill="#d43d4f"/>
<circle cx="344.6" cy="372.9" r="1.95" fill="#aadca4"/>
<circle cx="350.0" cy="373.6" r="1.95" fill="#fdb768"/>
<circle cx="346.7" cy="382.2" r="1.95" fill="#ffffbe"/>
<circle cx="348.3" cy="381.0" r="1.95" fill="#e6f598"/>
<circle cx="340.5" cy="387.4" r="1.95" fill="#9e0142"/>
<circle cx="359.2" cy="380.2" r="1.95" fill="#ffffbe"/>
<circle cx="367.5" cy="376.1" r="1.95" fill="#66c2a5"/>
<circle cx="368.0" cy="398.3" r="1.95" fill="#ffffbe"/>
<circle cx="370.5" cy="380.2" r="1.95" fill="#fdb768"/>
<circle cx="383.1" cy="386.6" r="1.95" fill="#ffffbe"/>
<circle cx="373.3" cy="393.1" r="1.95" fill="#ffffbe"/>
<circle cx="390.0" cy="392.8" r="1.95" fill="#ffffbe"/>
<circle cx="384.5" cy="402.4" r="1.95" fill="#fdb768"/>
<circle cx="370.0" cy="410.4" r="1.95" fill="#e6f598"/>
<circle cx="368.2" cy="412.8" r="1.95" fill="#aadca4"/>
<circle cx="379.5" cy="413.3" r="1.95" fill="#aadca4"/>
<circle cx="402.6" cy="378.1" r="1.95" fill="#9e0142"/>
<circle cx="401.1" cy="381.8" r="1.95" fill="#3387bc"/>
<circle cx="399.8" cy="404.5" r="1.95" fill="#f67a49"/>
<circle cx="403.4" cy="412.0" r="1.95" fill="#fee08b"/>
<circle cx="414.2" cy="390.7" r="1.95" fill="#ffffbe"/>
<circle cx="410.8" cy="394.8" r="1.95" fill="#ffffbe"/>
<circle cx="411.8" cy="413.9" r="1.95" fill="#9e0142"/>
<circle cx="414.1" cy="416.1" r="1.95" fill="#ffffbe"/>
<circle cx="432.1" cy="393.1" r="1.95" fill="#66c2a5"/>
<circle cx="447.9" cy="395.1" r="1.95" fill="#ffffbe"/>
<circle cx="426.1" cy="402.0" r="1.95" fill="#66c2a5"/>
<circle cx="425.6" cy="409.5" r="1.95" fill="#f67a49"/>
<circle cx="432.5" cy="413.9" r="1.95" fill="#ffffbe"/>
<circle cx="480.5" cy="401.0" r="1.95" fill="#ffffbe"/>
<circle cx="484.4" cy="403.4" r="1.95" fill="#ffffbe"/>
<circle cx="500.8" cy="390.7" r="1.95" fill="#fee08b"/>
<circle cx="496.7" cy="396.6" r="1.95" fill="#d43d4f"/>
<circle cx="495.4" cy="404.5" r="1.95" fill="#ffffbe"/>
<circle cx="479.3" cy="414.1" r="1.95" fill="#5e4fa2"/>
<circle cx="484.9" cy="413.6" r="1.95" fill="#ffffbe"/>
<circle cx="300.8" cy="423.2" r="1.95" fill="#ffffbe"/>
<circle cx="297.2" cy="425.3" r="1.95" fill="#66c2a5"/>
<circle cx="301.3" cy="427.3" r="1.95" fill="#3387bc"/>
<circle cx="303.8" cy="426.4" r="1.95" fill="#fdb768"/>
<circle cx="304.6" cy="429.7" r="1.95" fill="#e6f598"/>
<circle cx="292.3" cy="431.3" r="1.95" fill="#fee08b"/>
<circle cx="294.4" cy="440.8" r="1.95" fill="#ffffbe"/>
<circle cx="312.0" cy="435.9" r="1.95" fill="#66c2a5"/>
<circle cx="313.1" cy="437.6" r="1.95" fill="#66c2a5"/>
<circle cx="316.4" cy="436.8" r="1.95" fill="#66c2a5"/>
<circle cx="312.4" cy="442.5" r="1.95" fill="#66c2a5"/>
<circle cx="314.1" cy="447.3" r="1.95" fill="#3387bc"/>
<circle cx="312.8" cy="452.9" r="1.95" fill="#aadca4"/>
<circle cx="324.6" cy="426.4" r="1.95" fill="#66c2a5"/>
<circle cx="323.8" cy="431.8" r="1.95" fill="#f67a49"/>
<circle cx="325.8" cy="433.8" r="1.95" fill="#3387bc"/>
<circle cx="325.4" cy="436.3" r="1.95" fill="#5e4fa2"/>
<circle cx="329.4" cy="428.1" r="1.95" fill="#d43d4f"/>
<circle cx="329.9" cy="431.8" r="1.95" fill="#66c2a5"/>
<circle cx="330.3" cy="435.9" r="1.95" fill="#ffffbe"/>
<circle cx="331.0" cy="424.0" r="1.95" fill="#e6f598"/>
<circle cx="333.9" cy="421.9" r="1.95" fill="#ffffbe"/>
<circle cx="334.4" cy="434.6" r="1.95" fill="#3387bc"/>
<circle cx="335.6" cy="424.0" r="1.95" fill="#fdb768"/>
<circle cx="338.5" cy="423.2" r="1.95" fill="#ffffbe"/>
<circle cx="340.5" cy="419.1" r="1.95" fill="#ffffbe"/>
<circle cx="341.3" cy="421.2" r="1.95" fill="#ffffbe"/>
<circle cx="340.2" cy="426.9" r="1.95" fill="#66c2a5"/>
<circle cx="345.1" cy="419.6" r="1.95" fill="#ffffbe"/>
<circle cx="346.7" cy="420.7" r="1.95" fill="#ffffbe"/>
<circle cx="343.8" cy="431.3" r="1.95" fill="#ffffbe"/>
<circle cx="344.3" cy="433.8" r="1.95" fill="#ffffbe"/>
<circle cx="342.6" cy="435.9" r="1.95" fill="#ffffbe"/>
<circle cx="346.5" cy="437.9" r="1.95" fill="#fdb768"/>
<circle cx="351.0" cy="431.0" r="1.95" fill="#fdb768"/>
<circle cx="365.0" cy="418.9" r="1.95" fill="#3387bc"/>
<circle cx="367.4" cy="436.8" r="1.95" fill="#66c2a5"/>
<circle cx="354.2" cy="446.5" r="1.95" fill="#ffffbe"/>
<circle cx="356.9" cy="445.6" r="1.95" fill="#ffffbe"/>
<circle cx="352.3" cy="452.7" r="1.95" fill="#e6f598"/>
<circle cx="351.5" cy="455.2" r="1.95" fill="#e6f598"/>
<circle cx="358.5" cy="456.7" r="1.95" fill="#66c2a5"/>
<circle cx="351.0" cy="464.9" r="1.95" fill="#ffffbe"/>
<circle cx="366.4" cy="461.4" r="1.95" fill="#e6f598"/>
<circle cx="334.8" cy="467.9" r="1.95" fill="#3387bc"/>
<circle cx="376.9" cy="444.6" r="1.95" fill="#ffffbe"/>
<circle cx="374.2" cy="452.8" r="1.95" fill="#66c2a5"/>
<circle cx="368.4" cy="461.3" r="1.95" fill="#aadca4"/>
<circle cx="370.4" cy="459.4" r="1.95" fill="#ffffbe"/>
<circle cx="371.2" cy="461.3" r="1.95" fill="#ffffbe"/>
<circle cx="373.7" cy="461.3" r="1.95" fill="#aadca4"/>
<circle cx="369.6" cy="472.5" r="1.95" fill="#aadca4"/>
<circle cx="384.1" cy="463.0" r="1.95" fill="#ffffbe"/>
<circle cx="387.2" cy="459.7" r="1.95" fill="#9e0142"/>
<circle cx="393.0" cy="450.9" r="1.95" fill="#ffffbe"/>
<circle cx="397.4" cy="447.9" r="1.95" fill="#ffffbe"/>
<circle cx="382.2" cy="470.7" r="1.95" fill="#66c2a5"/>
<circle cx="380.7" cy="473.5" r="1.95" fill="#f67a49"/>
<circle cx="391.8" cy="470.1" r="1.95" fill="#aadca4"/>
<circle cx="397.9" cy="474.7" r="1.95" fill="#9e0142"/>
<circle cx="383.7" cy="487.0" r="1.95" fill="#d43d4f"/>
<circle cx="392.7" cy="497.0" r="1.95" fill="#3387bc"/>
<circle cx="377.8" cy="422.7" r="1.95" fill="#fdb768"/>
<circle cx="388.1" cy="426.7" r="1.95" fill="#ffffbe"/>
<circle cx="398.7" cy="421.8" r="1.95" fill="#ffffbe"/>
<circle cx="400.7" cy="420.6" r="1.95" fill="#f67a49"/>
<circle cx="401.5" cy="427.5" r="1.95" fill="#d43d4f"/>
<circle cx="406.1" cy="431.3" r="1.95" fill="#d43d4f"/>
<circle cx="412.1" cy="423.9" r="1.95" fill="#fee08b"/>
<circle cx="411.0" cy="432.4" r="1.95" fill="#9e0142"/>
<circle cx="411.3" cy="437.3" r="1.95" fill="#9e0142"/>
<circle cx="408.8" cy="440.6" r="1.95" fill="#f67a49"/>
<circle cx="419.4" cy="430.0" r="1.95" fill="#f67a49"/>
<circle cx="428.7" cy="422.7" r="1.95" fill="#aadca4"/>
<circle cx="435.3" cy="424.2" r="1.95" fill="#ffffbe"/>
<circle cx="443.8" cy="430.2" r="1.95" fill="#f67a49"/>
<circle cx="421.5" cy="439.1" r="1.95" fill="#fee08b"/>
<circle cx="419.4" cy="442.8" r="1.95" fill="#aadca4"/>
<circle cx="429.7" cy="443.3" r="1.95" fill="#ffffbe"/>
<circle cx="421.7" cy="449.3" r="1.95" fill="#fee08b"/>
<circle cx="416.4" cy="453.0" r="1.95" fill="#fdb768"/>
<circle cx="446.4" cy="439.6" r="1.95" fill="#ffffbe"/>
<circle cx="428.2" cy="452.1" r="1.95" fill="#fee08b"/>
<circle cx="426.0" cy="455.3" r="1.95" fill="#fee08b"/>
<circle cx="432.9" cy="454.6" r="1.95" fill="#d43d4f"/>
<circle cx="420.9" cy="458.4" r="1.95" fill="#ffffbe"/>
<circle cx="424.4" cy="458.4" r="1.95" fill="#fee08b"/>
<circle cx="427.6" cy="458.1" r="1.95" fill="#9e0142"/>
<circle cx="431.1" cy="458.1" r="1.95" fill="#fdb768"/>
<circle cx="425.4" cy="461.3" r="1.95" fill="#9e0142"/>
<circle cx="428.2" cy="461.9" r="1.95" fill="#5e4fa2"/>
<circle cx="426.0" cy="465.1" r="1.95" fill="#9e0142"/>
<circle cx="428.2" cy="465.7" r="1.95" fill="#9e0142"/>
<circle cx="436.1" cy="461.7" r="1.95" fill="#9e0142"/>
<circle cx="439.1" cy="464.1" r="1.95" fill="#9e0142"/>
<circle cx="435.5" cy="468.2" r="1.95" fill="#f67a49"/>
<circle cx="439.6" cy="467.3" r="1.95" fill="#9e0142"/>
<circle cx="444.2" cy="467.0" r="1.95" fill="#9e0142"/>
<circle cx="446.2" cy="467.3" r="1.95" fill="#3387bc"/>
<circle cx="451.3" cy="466.6" r="1.95" fill="#66c2a5"/>
<circle cx="443.4" cy="474.4" r="1.95" fill="#fee08b"/>
<circle cx="439.6" cy="454.0" r="1.95" fill="#9e0142"/>
<circle cx="444.0" cy="452.1" r="1.95" fill="#fdb768"/>
<circle cx="446.2" cy="452.9" r="1.95" fill="#ffffbe"/>
<circle cx="448.1" cy="451.3" r="1.95" fill="#fee08b"/>
<circle cx="442.4" cy="457.7" r="1.95" fill="#ffffbe"/>
<circle cx="445.6" cy="457.0" r="1.95" fill="#ffffbe"/>
<circle cx="449.3" cy="455.9" r="1.95" fill="#ffffbe"/>
<circle cx="452.0" cy="445.8" r="1.95" fill="#d43d4f"/>
<circle cx="464.2" cy="447.4" r="1.95" fill="#ffffbe"/>
<circle cx="461.3" cy="457.3" r="1.95" fill="#66c2a5"/>
<circle cx="462.4" cy="470.6" r="1.95" fill="#66c2a5"/>
<circle cx="458.3" cy="472.7" r="1.95" fill="#ffffbe"/>
<circle cx="455.5" cy="474.0" r="1.95" fill="#ffffbe"/>
<circle cx="458.9" cy="477.8" r="1.95" fill="#ffffbe"/>
<circle cx="474.7" cy="425.0" r="1.95" fill="#9e0142"/>
<circle cx="481.3" cy="428.3" r="1.95" fill="#d43d4f"/>
<circle cx="476.9" cy="431.3" r="1.95" fill="#ffffbe"/>
<circle cx="474.2" cy="439.1" r="1.95" fill="#d43d4f"/>
<circle cx="452.3" cy="433.7" r="1.95" fill="#ffffbe"/>
<circle cx="473.9" cy="482.5" r="1.95" fill="#aadca4"/>
<circle cx="403.7" cy="473.1" r="1.95" fill="#d43d4f"/>
</g>
<g stroke="#15151f" stroke-width="0.7">
<circle cx="62.1" cy="549.8" r="1.95" fill="#443a83"/>
<circle cx="66.5" cy="548.2" r="1.95" fill="#bddf26"/>
<circle cx="67.7" cy="552.2" r="1.95" fill="#3fbc73"/>
<circle cx="40.1" cy="559.1" r="1.95" fill="#1f978b"/>
<circle cx="54.7" cy="562.1" r="1.95" fill="#443a83"/>
<circle cx="53.0" cy="568.1" r="1.95" fill="#1f978b"/>
<circle cx="67.7" cy="572.5" r="1.95" fill="#25ab82"/>
<circle cx="36.8" cy="580.2" r="1.95" fill="#1f978b"/>
<circle cx="44.5" cy="583.2" r="1.95" fill="#443a83"/>
<circle cx="74.7" cy="583.3" r="1.95" fill="#1f978b"/>
<circle cx="82.5" cy="584.0" r="1.95" fill="#25ab82"/>
<circle cx="88.5" cy="547.7" r="1.95" fill="#375a8c"/>
<circle cx="91.8" cy="547.3" r="1.95" fill="#7ad151"/>
<circle cx="97.1" cy="548.0" r="1.95" fill="#1f978b"/>
<circle cx="93.9" cy="556.7" r="1.95" fill="#375a8c"/>
<circle cx="95.5" cy="555.5" r="1.95" fill="#7ad151"/>
<circle cx="87.7" cy="561.9" r="1.95" fill="#fde725"/>
<circle cx="106.4" cy="554.7" r="1.95" fill="#bddf26"/>
<circle cx="114.7" cy="550.6" r="1.95" fill="#1f978b"/>
<circle cx="115.2" cy="572.8" r="1.95" fill="#fde725"/>
<circle cx="117.7" cy="554.7" r="1.95" fill="#bddf26"/>
<circle cx="130.2" cy="561.1" r="1.95" fill="#fde725"/>
<circle cx="120.4" cy="567.6" r="1.95" fill="#7ad151"/>
<circle cx="137.2" cy="567.3" r="1.95" fill="#fde725"/>
<circle cx="131.7" cy="577.0" r="1.95" fill="#fde725"/>
<circle cx="117.2" cy="585.0" r="1.95" fill="#1f978b"/>
<circle cx="115.4" cy="587.4" r="1.95" fill="#1f978b"/>
<circle cx="126.6" cy="587.9" r="1.95" fill="#375a8c"/>
<circle cx="149.7" cy="552.6" r="1.95" fill="#297a8e"/>
<circle cx="148.2" cy="556.3" r="1.95" fill="#443a83"/>
<circle cx="146.9" cy="579.1" r="1.95" fill="#fde725"/>
<circle cx="150.5" cy="586.6" r="1.95" fill="#fde725"/>
<circle cx="161.2" cy="565.2" r="1.95" fill="#3fbc73"/>
<circle cx="157.9" cy="569.3" r="1.95" fill="#25ab82"/>
<circle cx="158.9" cy="588.5" r="1.95" fill="#1f978b"/>
<circle cx="161.1" cy="590.7" r="1.95" fill="#443a83"/>
<circle cx="179.2" cy="567.6" r="1.95" fill="#25ab82"/>
<circle cx="194.9" cy="569.6" r="1.95" fill="#3fbc73"/>
<circle cx="173.2" cy="576.6" r="1.95" fill="#297a8e"/>
<circle cx="172.7" cy="584.1" r="1.95" fill="#1f978b"/>
<circle cx="179.6" cy="588.5" r="1.95" fill="#7ad151"/>
<circle cx="227.4" cy="575.5" r="1.95" fill="#297a8e"/>
<circle cx="231.4" cy="578.0" r="1.95" fill="#3fbc73"/>
<circle cx="247.7" cy="565.2" r="1.95" fill="#443a83"/>
<circle cx="243.6" cy="571.1" r="1.95" fill="#297a8e"/>
<circle cx="242.4" cy="579.1" r="1.95" fill="#1f978b"/>
<circle cx="226.2" cy="588.7" r="1.95" fill="#3fbc73"/>
<circle cx="231.9" cy="588.2" r="1.95" fill="#1f978b"/>
<circle cx="48.1" cy="597.8" r="1.95" fill="#1f978b"/>
<circle cx="44.5" cy="599.9" r="1.95" fill="#fde725"/>
<circle cx="48.6" cy="601.9" r="1.95" fill="#443a83"/>
<circle cx="51.1" cy="601.0" r="1.95" fill="#1f978b"/>
<circle cx="51.9" cy="604.3" r="1.95" fill="#25ab82"/>
<circle cx="39.6" cy="605.9" r="1.95" fill="#bddf26"/>
<circle cx="41.7" cy="615.4" r="1.95" fill="#7ad151"/>
<circle cx="59.2" cy="610.5" r="1.95" fill="#460b5e"/>
<circle cx="60.3" cy="612.2" r="1.95" fill="#460b5e"/>
<circle cx="63.6" cy="611.4" r="1.95" fill="#1f978b"/>
<circle cx="59.6" cy="617.1" r="1.95" fill="#375a8c"/>
<circle cx="61.3" cy="622.0" r="1.95" fill="#443a83"/>
<circle cx="60.0" cy="627.7" r="1.95" fill="#7ad151"/>
<circle cx="71.9" cy="601.0" r="1.95" fill="#375a8c"/>
<circle cx="71.1" cy="606.4" r="1.95" fill="#297a8e"/>
<circle cx="73.1" cy="608.4" r="1.95" fill="#297a8e"/>
<circle cx="72.7" cy="610.9" r="1.95" fill="#443a83"/>
<circle cx="76.6" cy="602.7" r="1.95" fill="#375a8c"/>
<circle cx="77.1" cy="606.4" r="1.95" fill="#3fbc73"/>
<circle cx="77.5" cy="610.5" r="1.95" fill="#1f978b"/>
<circle cx="78.2" cy="598.6" r="1.95" fill="#375a8c"/>
<circle cx="81.1" cy="596.5" r="1.95" fill="#7ad151"/>
<circle cx="81.6" cy="609.2" r="1.95" fill="#443a83"/>
<circle cx="82.8" cy="598.6" r="1.95" fill="#3fbc73"/>
<circle cx="85.7" cy="597.8" r="1.95" fill="#7ad151"/>
<circle cx="87.7" cy="593.7" r="1.95" fill="#bddf26"/>
<circle cx="88.5" cy="595.8" r="1.95" fill="#bddf26"/>
<circle cx="87.4" cy="601.5" r="1.95" fill="#443a83"/>
<circle cx="92.3" cy="594.2" r="1.95" fill="#3fbc73"/>
<circle cx="93.9" cy="595.3" r="1.95" fill="#25ab82"/>
<circle cx="91.0" cy="605.9" r="1.95" fill="#25ab82"/>
<circle cx="91.5" cy="608.4" r="1.95" fill="#25ab82"/>
<circle cx="89.8" cy="610.5" r="1.95" fill="#1f978b"/>
<circle cx="93.7" cy="612.5" r="1.95" fill="#7ad151"/>
<circle cx="98.2" cy="605.6" r="1.95" fill="#25ab82"/>
<circle cx="112.2" cy="593.5" r="1.95" fill="#443a83"/>
<circle cx="114.6" cy="611.4" r="1.95" fill="#1f978b"/>
<circle cx="101.4" cy="621.2" r="1.95" fill="#25ab82"/>
<circle cx="104.1" cy="620.3" r="1.95" fill="#1f978b"/>
<circle cx="99.5" cy="627.5" r="1.95" fill="#3fbc73"/>
<circle cx="98.7" cy="630.0" r="1.95" fill="#297a8e"/>
<circle cx="105.7" cy="631.5" r="1.95" fill="#375a8c"/>
<circle cx="98.2" cy="639.7" r="1.95" fill="#297a8e"/>
<circle cx="113.6" cy="636.2" r="1.95" fill="#443a83"/>
<circle cx="82.0" cy="642.7" r="1.95" fill="#443a83"/>
<circle cx="124.0" cy="619.3" r="1.95" fill="#1f978b"/>
<circle cx="121.3" cy="627.6" r="1.95" fill="#3fbc73"/>
<circle cx="115.6" cy="636.1" r="1.95" fill="#3fbc73"/>
<circle cx="117.6" cy="634.2" r="1.95" fill="#bddf26"/>
<circle cx="118.3" cy="636.1" r="1.95" fill="#bddf26"/>
<circle cx="120.8" cy="636.1" r="1.95" fill="#fde725"/>
<circle cx="116.8" cy="647.3" r="1.95" fill="#1f978b"/>
<circle cx="131.3" cy="637.8" r="1.95" fill="#fde725"/>
<circle cx="134.4" cy="634.5" r="1.95" fill="#7ad151"/>
<circle cx="140.1" cy="625.6" r="1.95" fill="#7ad151"/>
<circle cx="144.5" cy="622.6" r="1.95" fill="#7ad151"/>
<circle cx="129.3" cy="645.5" r="1.95" fill="#375a8c"/>
<circle cx="127.8" cy="648.3" r="1.95" fill="#443a83"/>
<circle cx="138.9" cy="644.9" r="1.95" fill="#fde725"/>
<circle cx="145.0" cy="649.5" r="1.95" fill="#1f978b"/>
<circle cx="130.9" cy="661.8" r="1.95" fill="#443a83"/>
<circle cx="139.8" cy="671.8" r="1.95" fill="#1f978b"/>
<circle cx="124.9" cy="597.3" r="1.95" fill="#fde725"/>
<circle cx="135.3" cy="601.3" r="1.95" fill="#1f978b"/>
<circle cx="145.8" cy="596.4" r="1.95" fill="#fde725"/>
<circle cx="147.8" cy="595.2" r="1.95" fill="#fde725"/>
<circle cx="148.6" cy="602.1" r="1.95" fill="#1f978b"/>
<circle cx="153.2" cy="605.9" r="1.95" fill="#297a8e"/>
<circle cx="159.2" cy="598.5" r="1.95" fill="#375a8c"/>
<circle cx="158.1" cy="607.0" r="1.95" fill="#1f978b"/>
<circle cx="158.4" cy="611.9" r="1.95" fill="#443a83"/>
<circle cx="155.9" cy="615.2" r="1.95" fill="#1f978b"/>
<circle cx="166.5" cy="604.6" r="1.95" fill="#1f978b"/>
<circle cx="175.8" cy="597.3" r="1.95" fill="#443a83"/>
<circle cx="182.3" cy="598.8" r="1.95" fill="#fde725"/>
<circle cx="190.8" cy="604.8" r="1.95" fill="#1f978b"/>
<circle cx="168.6" cy="613.7" r="1.95" fill="#7ad151"/>
<circle cx="166.5" cy="617.4" r="1.95" fill="#1f978b"/>
<circle cx="176.8" cy="618.0" r="1.95" fill="#297a8e"/>
<circle cx="168.8" cy="624.0" r="1.95" fill="#bddf26"/>
<circle cx="163.5" cy="627.8" r="1.95" fill="#1f978b"/>
<circle cx="193.4" cy="614.2" r="1.95" fill="#25ab82"/>
<circle cx="175.3" cy="626.9" r="1.95" fill="#443a83"/>
<circle cx="173.1" cy="630.1" r="1.95" fill="#bddf26"/>
<circle cx="180.0" cy="629.4" r="1.95" fill="#297a8e"/>
<circle cx="168.0" cy="633.2" r="1.95" fill="#fde725"/>
<circle cx="171.5" cy="633.2" r="1.95" fill="#fde725"/>
<circle cx="174.7" cy="632.9" r="1.95" fill="#1f978b"/>
<circle cx="178.2" cy="632.9" r="1.95" fill="#1f978b"/>
<circle cx="172.5" cy="636.1" r="1.95" fill="#297a8e"/>
<circle cx="175.3" cy="636.7" r="1.95" fill="#443a83"/>
<circle cx="173.1" cy="639.9" r="1.95" fill="#443a83"/>
<circle cx="175.3" cy="640.5" r="1.95" fill="#297a8e"/>
<circle cx="183.1" cy="636.5" r="1.95" fill="#443a83"/>
<circle cx="186.1" cy="638.9" r="1.95" fill="#443a83"/>
<circle cx="182.5" cy="643.0" r="1.95" fill="#1f978b"/>
<circle cx="186.6" cy="642.1" r="1.95" fill="#375a8c"/>
<circle cx="191.2" cy="641.8" r="1.95" fill="#375a8c"/>
<circle cx="193.2" cy="642.1" r="1.95" fill="#297a8e"/>
<circle cx="198.4" cy="641.4" r="1.95" fill="#1f978b"/>
<circle cx="190.4" cy="649.2" r="1.95" fill="#3fbc73"/>
<circle cx="186.6" cy="628.8" r="1.95" fill="#3fbc73"/>
<circle cx="191.0" cy="626.9" r="1.95" fill="#443a83"/>
<circle cx="193.2" cy="627.7" r="1.95" fill="#3fbc73"/>
<circle cx="195.1" cy="626.0" r="1.95" fill="#297a8e"/>
<circle cx="189.4" cy="632.5" r="1.95" fill="#25ab82"/>
<circle cx="192.6" cy="631.8" r="1.95" fill="#3fbc73"/>
<circle cx="196.4" cy="630.7" r="1.95" fill="#7ad151"/>
<circle cx="199.1" cy="620.5" r="1.95" fill="#1f978b"/>
<circle cx="211.2" cy="622.1" r="1.95" fill="#3fbc73"/>
<circle cx="208.3" cy="632.1" r="1.95" fill="#1f978b"/>
<circle cx="209.4" cy="645.4" r="1.95" fill="#443a83"/>
<circle cx="205.3" cy="647.5" r="1.95" fill="#25ab82"/>
<circle cx="202.5" cy="648.8" r="1.95" fill="#1f978b"/>
<circle cx="205.9" cy="652.6" r="1.95" fill="#443a83"/>
<circle cx="221.7" cy="599.6" r="1.95" fill="#297a8e"/>
<circle cx="228.2" cy="602.9" r="1.95" fill="#297a8e"/>
<circle cx="223.8" cy="605.9" r="1.95" fill="#25ab82"/>
<circle cx="221.2" cy="613.7" r="1.95" fill="#297a8e"/>
<circle cx="199.4" cy="608.3" r="1.95" fill="#fde725"/>
<circle cx="220.9" cy="657.3" r="1.95" fill="#443a83"/>
<circle cx="150.8" cy="647.9" r="1.95" fill="#1f978b"/>
</g>
<g stroke="#15151f" stroke-width="0.7">
<circle cx="315.0" cy="551.1" r="1.95" fill="#443a83"/>
<circle cx="319.4" cy="549.5" r="1.95" fill="#fde725"/>
<circle cx="320.6" cy="553.5" r="1.95" fill="#7ad151"/>
<circle cx="293.1" cy="560.3" r="1.95" fill="#1f978b"/>
<circle cx="307.6" cy="563.3" r="1.95" fill="#443a83"/>
<circle cx="305.9" cy="569.2" r="1.95" fill="#297a8e"/>
<circle cx="320.6" cy="573.6" r="1.95" fill="#1f978b"/>
<circle cx="289.8" cy="581.1" r="1.95" fill="#297a8e"/>
<circle cx="297.5" cy="584.1" r="1.95" fill="#443a83"/>
<circle cx="327.5" cy="584.2" r="1.95" fill="#1f978b"/>
<circle cx="335.4" cy="584.9" r="1.95" fill="#25ab82"/>
<circle cx="341.3" cy="549.0" r="1.95" fill="#297a8e"/>
<circle cx="344.6" cy="548.6" r="1.95" fill="#fde725"/>
<circle cx="349.9" cy="549.3" r="1.95" fill="#297a8e"/>
<circle cx="346.7" cy="557.9" r="1.95" fill="#fde725"/>
<circle cx="348.2" cy="556.7" r="1.95" fill="#297a8e"/>
<circle cx="340.5" cy="563.1" r="1.95" fill="#fde725"/>
<circle cx="359.2" cy="556.0" r="1.95" fill="#fde725"/>
<circle cx="367.4" cy="551.9" r="1.95" fill="#7ad151"/>
<circle cx="367.9" cy="573.9" r="1.95" fill="#bddf26"/>
<circle cx="370.4" cy="556.0" r="1.95" fill="#7ad151"/>
<circle cx="382.8" cy="562.3" r="1.95" fill="#fde725"/>
<circle cx="373.1" cy="568.7" r="1.95" fill="#7ad151"/>
<circle cx="389.8" cy="568.4" r="1.95" fill="#fde725"/>
<circle cx="384.3" cy="577.9" r="1.95" fill="#fde725"/>
<circle cx="369.9" cy="585.9" r="1.95" fill="#297a8e"/>
<circle cx="368.1" cy="588.2" r="1.95" fill="#25ab82"/>
<circle cx="379.3" cy="588.7" r="1.95" fill="#375a8c"/>
<circle cx="402.3" cy="553.9" r="1.95" fill="#297a8e"/>
<circle cx="400.8" cy="557.5" r="1.95" fill="#460b5e"/>
<circle cx="399.5" cy="580.0" r="1.95" fill="#fde725"/>
<circle cx="403.1" cy="587.4" r="1.95" fill="#fde725"/>
<circle cx="413.8" cy="566.4" r="1.95" fill="#3fbc73"/>
<circle cx="410.4" cy="570.4" r="1.95" fill="#25ab82"/>
<circle cx="411.4" cy="589.3" r="1.95" fill="#1f978b"/>
<circle cx="413.7" cy="591.5" r="1.95" fill="#460b5e"/>
<circle cx="431.6" cy="568.7" r="1.95" fill="#1f978b"/>
<circle cx="447.3" cy="570.7" r="1.95" fill="#3fbc73"/>
<circle cx="425.7" cy="577.5" r="1.95" fill="#375a8c"/>
<circle cx="425.2" cy="585.0" r="1.95" fill="#1f978b"/>
<circle cx="432.0" cy="589.3" r="1.95" fill="#7ad151"/>
<circle cx="479.7" cy="576.6" r="1.95" fill="#297a8e"/>
<circle cx="483.7" cy="578.9" r="1.95" fill="#3fbc73"/>
<circle cx="499.9" cy="566.4" r="1.95" fill="#443a83"/>
<circle cx="495.9" cy="572.2" r="1.95" fill="#297a8e"/>
<circle cx="494.6" cy="580.0" r="1.95" fill="#1f978b"/>
<circle cx="478.5" cy="589.5" r="1.95" fill="#3fbc73"/>
<circle cx="484.2" cy="589.0" r="1.95" fill="#1f978b"/>
<circle cx="301.0" cy="598.5" r="1.95" fill="#1f978b"/>
<circle cx="297.5" cy="600.6" r="1.95" fill="#bddf26"/>
<circle cx="301.5" cy="602.6" r="1.95" fill="#443a83"/>
<circle cx="304.0" cy="601.7" r="1.95" fill="#375a8c"/>
<circle cx="304.8" cy="605.0" r="1.95" fill="#297a8e"/>
<circle cx="292.6" cy="606.6" r="1.95" fill="#fde725"/>
<circle cx="294.7" cy="616.0" r="1.95" fill="#bddf26"/>
<circle cx="312.2" cy="611.1" r="1.95" fill="#460b5e"/>
<circle cx="313.2" cy="612.8" r="1.95" fill="#460b5e"/>
<circle cx="316.5" cy="612.0" r="1.95" fill="#375a8c"/>
<circle cx="312.5" cy="617.6" r="1.95" fill="#443a83"/>
<circle cx="314.2" cy="622.5" r="1.95" fill="#443a83"/>
<circle cx="312.9" cy="628.0" r="1.95" fill="#375a8c"/>
<circle cx="324.7" cy="601.7" r="1.95" fill="#443a83"/>
<circle cx="324.0" cy="607.0" r="1.95" fill="#1f978b"/>
<circle cx="325.9" cy="609.0" r="1.95" fill="#443a83"/>
<circle cx="325.5" cy="611.5" r="1.95" fill="#443a83"/>
<circle cx="329.5" cy="603.4" r="1.95" fill="#297a8e"/>
<circle cx="330.0" cy="607.0" r="1.95" fill="#3fbc73"/>
<circle cx="330.4" cy="611.1" r="1.95" fill="#1f978b"/>
<circle cx="331.1" cy="599.3" r="1.95" fill="#443a83"/>
<circle cx="334.0" cy="597.2" r="1.95" fill="#1f978b"/>
<circle cx="334.5" cy="609.8" r="1.95" fill="#443a83"/>
<circle cx="335.7" cy="599.3" r="1.95" fill="#bddf26"/>
<circle cx="338.5" cy="598.5" r="1.95" fill="#1f978b"/>
<circle cx="340.5" cy="594.5" r="1.95" fill="#7ad151"/>
<circle cx="341.3" cy="596.6" r="1.95" fill="#7ad151"/>
<circle cx="340.2" cy="602.2" r="1.95" fill="#443a83"/>
<circle cx="345.1" cy="595.0" r="1.95" fill="#3fbc73"/>
<circle cx="346.7" cy="596.1" r="1.95" fill="#3fbc73"/>
<circle cx="343.8" cy="606.6" r="1.95" fill="#3fbc73"/>
<circle cx="344.3" cy="609.0" r="1.95" fill="#3fbc73"/>
<circle cx="342.6" cy="611.1" r="1.95" fill="#3fbc73"/>
<circle cx="346.5" cy="613.1" r="1.95" fill="#25ab82"/>
<circle cx="351.0" cy="606.3" r="1.95" fill="#3fbc73"/>
<circle cx="364.9" cy="594.3" r="1.95" fill="#460b5e"/>
<circle cx="367.3" cy="612.0" r="1.95" fill="#25ab82"/>
<circle cx="354.2" cy="621.7" r="1.95" fill="#7ad151"/>
<circle cx="356.9" cy="620.8" r="1.95" fill="#3fbc73"/>
<circle cx="352.3" cy="627.8" r="1.95" fill="#297a8e"/>
<circle cx="351.5" cy="630.3" r="1.95" fill="#375a8c"/>
<circle cx="358.5" cy="631.8" r="1.95" fill="#443a83"/>
<circle cx="351.0" cy="639.9" r="1.95" fill="#3fbc73"/>
<circle cx="366.3" cy="636.5" r="1.95" fill="#443a83"/>
<circle cx="334.9" cy="642.9" r="1.95" fill="#443a83"/>
<circle cx="376.7" cy="619.8" r="1.95" fill="#1f978b"/>
<circle cx="374.0" cy="627.9" r="1.95" fill="#3fbc73"/>
<circle cx="368.3" cy="636.4" r="1.95" fill="#1f978b"/>
<circle cx="370.3" cy="634.5" r="1.95" fill="#7ad151"/>
<circle cx="371.0" cy="636.4" r="1.95" fill="#7ad151"/>
<circle cx="373.5" cy="636.4" r="1.95" fill="#fde725"/>
<circle cx="369.5" cy="647.4" r="1.95" fill="#1f978b"/>
<circle cx="383.9" cy="638.0" r="1.95" fill="#3fbc73"/>
<circle cx="387.0" cy="634.8" r="1.95" fill="#3fbc73"/>
<circle cx="392.8" cy="626.1" r="1.95" fill="#7ad151"/>
<circle cx="397.1" cy="623.1" r="1.95" fill="#3fbc73"/>
<circle cx="382.0" cy="645.7" r="1.95" fill="#443a83"/>
<circle cx="380.5" cy="648.4" r="1.95" fill="#1f978b"/>
<circle cx="391.6" cy="645.1" r="1.95" fill="#fde725"/>
<circle cx="397.6" cy="649.6" r="1.95" fill="#1f978b"/>
<circle cx="383.5" cy="661.8" r="1.95" fill="#443a83"/>
<circle cx="392.5" cy="671.7" r="1.95" fill="#297a8e"/>
<circle cx="377.6" cy="598.0" r="1.95" fill="#fde725"/>
<circle cx="387.9" cy="602.0" r="1.95" fill="#1f978b"/>
<circle cx="398.4" cy="597.1" r="1.95" fill="#fde725"/>
<circle cx="400.4" cy="596.0" r="1.95" fill="#fde725"/>
<circle cx="401.2" cy="602.8" r="1.95" fill="#25ab82"/>
<circle cx="405.8" cy="606.6" r="1.95" fill="#1f978b"/>
<circle cx="411.7" cy="599.2" r="1.95" fill="#297a8e"/>
<circle cx="410.6" cy="607.6" r="1.95" fill="#1f978b"/>
<circle cx="410.9" cy="612.5" r="1.95" fill="#443a83"/>
<circle cx="408.4" cy="615.8" r="1.95" fill="#1f978b"/>
<circle cx="419.0" cy="605.3" r="1.95" fill="#1f978b"/>
<circle cx="428.3" cy="598.0" r="1.95" fill="#443a83"/>
<circle cx="434.8" cy="599.5" r="1.95" fill="#fde725"/>
<circle cx="443.2" cy="605.5" r="1.95" fill="#1f978b"/>
<circle cx="421.1" cy="614.3" r="1.95" fill="#bddf26"/>
<circle cx="419.0" cy="617.9" r="1.95" fill="#1f978b"/>
<circle cx="429.3" cy="618.5" r="1.95" fill="#297a8e"/>
<circle cx="421.3" cy="624.5" r="1.95" fill="#bddf26"/>
<circle cx="416.1" cy="628.1" r="1.95" fill="#1f978b"/>
<circle cx="445.8" cy="614.8" r="1.95" fill="#7ad151"/>
<circle cx="427.8" cy="627.2" r="1.95" fill="#375a8c"/>
<circle cx="425.6" cy="630.4" r="1.95" fill="#fde725"/>
<circle cx="432.4" cy="629.7" r="1.95" fill="#1f978b"/>
<circle cx="420.5" cy="633.5" r="1.95" fill="#fde725"/>
<circle cx="424.0" cy="633.5" r="1.95" fill="#fde725"/>
<circle cx="427.2" cy="633.2" r="1.95" fill="#297a8e"/>
<circle cx="430.6" cy="633.2" r="1.95" fill="#25ab82"/>
<circle cx="425.0" cy="636.4" r="1.95" fill="#1f978b"/>
<circle cx="427.8" cy="636.9" r="1.95" fill="#443a83"/>
<circle cx="425.6" cy="640.1" r="1.95" fill="#297a8e"/>
<circle cx="427.8" cy="640.7" r="1.95" fill="#297a8e"/>
<circle cx="435.6" cy="636.8" r="1.95" fill="#443a83"/>
<circle cx="438.6" cy="639.1" r="1.95" fill="#375a8c"/>
<circle cx="435.0" cy="643.2" r="1.95" fill="#7ad151"/>
<circle cx="439.1" cy="642.3" r="1.95" fill="#375a8c"/>
<circle cx="443.6" cy="642.0" r="1.95" fill="#297a8e"/>
<circle cx="445.6" cy="642.3" r="1.95" fill="#297a8e"/>
<circle cx="450.8" cy="641.6" r="1.95" fill="#1f978b"/>
<circle cx="442.8" cy="649.3" r="1.95" fill="#7ad151"/>
<circle cx="439.1" cy="629.1" r="1.95" fill="#7ad151"/>
<circle cx="443.4" cy="627.2" r="1.95" fill="#bddf26"/>
<circle cx="445.6" cy="628.0" r="1.95" fill="#bddf26"/>
<circle cx="447.5" cy="626.5" r="1.95" fill="#1f978b"/>
<circle cx="441.8" cy="632.8" r="1.95" fill="#7ad151"/>
<circle cx="445.0" cy="632.1" r="1.95" fill="#7ad151"/>
<circle cx="448.8" cy="631.0" r="1.95" fill="#bddf26"/>
<circle cx="451.5" cy="621.0" r="1.95" fill="#1f978b"/>
<circle cx="463.6" cy="622.6" r="1.95" fill="#7ad151"/>
<circle cx="460.7" cy="632.4" r="1.95" fill="#297a8e"/>
<circle cx="461.8" cy="645.6" r="1.95" fill="#443a83"/>
<circle cx="457.7" cy="647.6" r="1.95" fill="#1f978b"/>
<circle cx="454.9" cy="648.9" r="1.95" fill="#1f978b"/>
<circle cx="458.3" cy="652.7" r="1.95" fill="#443a83"/>
<circle cx="474.0" cy="600.3" r="1.95" fill="#297a8e"/>
<circle cx="480.5" cy="603.6" r="1.95" fill="#297a8e"/>
<circle cx="476.1" cy="606.6" r="1.95" fill="#3fbc73"/>
<circle cx="473.5" cy="614.3" r="1.95" fill="#297a8e"/>
<circle cx="451.8" cy="608.9" r="1.95" fill="#fde725"/>
<circle cx="473.2" cy="657.3" r="1.95" fill="#443a83"/>
<circle cx="403.4" cy="648.0" r="1.95" fill="#1f978b"/>
</g>
<text x="78.6" y="12.3" font-size="10.5" font-weight="bold" fill="#000" textLength="94.6" lengthAdjust="spacing">Surface (0–10 cm)</text>
<text x="338.4" y="12.3" font-size="10.5" font-weight="bold" fill="#000" textLength="121.4" lengthAdjust="spacing">Subsurface (10–40 cm)</text>
<text transform="translate(12.5,68.6) rotate(-90)" font-size="11.1" text-anchor="middle">Correlation (R)</text>
<text transform="translate(12.5,241) rotate(-90)" font-size="11.1" text-anchor="middle">ubRMSE (cm<tspan font-size="7" dy="-3.6">3</tspan><tspan dy="3.6">/ cm</tspan><tspan font-size="7" dy="-3.6">3</tspan><tspan dy="3.6">)</tspan></text>
<text transform="translate(12.5,419.2) rotate(-90)" font-size="11.1" text-anchor="middle">Bias (cm<tspan font-size="7" dy="-3.6">3</tspan><tspan dy="3.6">/ cm</tspan><tspan font-size="7" dy="-3.6">3</tspan><tspan dy="3.6">)</tspan></text>
<text transform="translate(12.5,584.6) rotate(-90)" font-size="11.1" text-anchor="middle">NNSE (-)</text>
<rect x="521.8" y="16.5" width="6.7" height="134.9" fill="url(#g0)"/>
<text x="532.2" y="51.8" font-size="7.7" fill="#222">0.5</text>
<text x="536.2" y="86.9" font-size="7.7" fill="#222">0</text>
<text x="532.2" y="119.8" font-size="7.7" fill="#222">-0.5</text>
<rect x="518.2" y="185.2" width="7.2" height="134.3" fill="url(#g1)"/>
<text x="529.3" y="210.1" font-size="7.7" fill="#222">0.1</text>
<text x="528.9" y="255.4" font-size="7.7" fill="#222">0.06</text>
<text x="528.9" y="299.2" font-size="7.7" fill="#222">0.02</text>
<rect x="521.5" y="360.2" width="7.4" height="135.6" fill="url(#g2)"/>
<text x="532.4" y="385.4" font-size="7.7" fill="#222">0.1</text>
<text x="532.4" y="430.4" font-size="7.7" fill="#222">0.0</text>
<text x="532.0" y="476.2" font-size="7.7" fill="#222">-0.1</text>
<rect x="519.4" y="536.4" width="7.4" height="133.1" fill="url(#g3)"/>
<text x="530.1" y="562.1" font-size="7.7" fill="#222">0.60</text>
<text x="530.1" y="606.1" font-size="7.7" fill="#222">0.36</text>
<text x="530.1" y="650.7" font-size="7.7" fill="#222">0.12</text>
<rect x="31.5" y="129.5" width="67.0" height="41.3" fill="#fff" stroke="#b8b8b8" stroke-width="0.7"/>
<rect x="49.27" y="169.80" width="2.50" height="1.00" fill="#f6a283"/>
<rect x="51.42" y="167.50" width="2.50" height="3.30" fill="#f7ad90"/>
<rect x="57.86" y="169.40" width="2.50" height="1.40" fill="#f1ccb8"/>
<rect x="62.15" y="167.20" width="2.50" height="3.60" fill="#e4d9d2"/>
<rect x="64.30" y="169.80" width="2.50" height="1.00" fill="#dbdcde"/>
<rect x="66.45" y="168.80" width="2.50" height="2.00" fill="#d3dbe7"/>
<rect x="68.59" y="167.20" width="2.50" height="3.60" fill="#c9d7f0"/>
<rect x="70.74" y="166.10" width="2.50" height="4.70" fill="#bfd3f6"/>
<rect x="72.89" y="165.00" width="2.50" height="5.80" fill="#b3cdfb"/>
<rect x="75.03" y="163.40" width="2.50" height="7.40" fill="#a9c6fd"/>
<rect x="77.18" y="159.90" width="2.50" height="10.90" fill="#9dbdff"/>
<rect x="79.33" y="159.00" width="2.50" height="11.80" fill="#92b4fe"/>
<rect x="81.47" y="148.10" width="2.50" height="22.70" fill="#85a8fc"/>
<rect x="83.62" y="152.50" width="2.50" height="18.30" fill="#7a9df8"/>
<rect x="85.77" y="132.30" width="2.50" height="38.50" fill="#6e90f2"/>
<rect x="87.91" y="151.80" width="2.50" height="19.00" fill="#6384eb"/>
<rect x="90.06" y="154.10" width="2.50" height="16.70" fill="#5875e1"/>
<rect x="92.21" y="162.30" width="2.50" height="8.50" fill="#4c66d6"/>
<line x1="81.6" x2="81.6" y1="129.9" y2="170.4" stroke="#333" stroke-width="0.7" stroke-dasharray="1.4,1"/>
<text class="dj" x="29.8" y="143.6" font-size="6.3" text-anchor="end">30</text>
<line x1="30.2" x2="31.5" y1="141.3" y2="141.3" stroke="#999" stroke-width="0.4"/>
<text class="dj" x="29.8" y="153.6" font-size="6.3" text-anchor="end">20</text>
<line x1="30.2" x2="31.5" y1="151.3" y2="151.3" stroke="#999" stroke-width="0.4"/>
<text class="dj" x="29.8" y="163.6" font-size="6.3" text-anchor="end">10</text>
<line x1="30.2" x2="31.5" y1="161.3" y2="161.3" stroke="#999" stroke-width="0.4"/>
<text class="dj" x="49.1" y="177.4" font-size="6.3" text-anchor="middle">−0.5</text>
<line x1="49.1" x2="49.1" y1="170.8" y2="172.1" stroke="#999" stroke-width="0.4"/>
<text class="dj" x="65.1" y="177.4" font-size="6.3" text-anchor="middle">0.0</text>
<line x1="65.1" x2="65.1" y1="170.8" y2="172.1" stroke="#999" stroke-width="0.4"/>
<text class="dj" x="81.3" y="177.4" font-size="6.3" text-anchor="middle">0.5</text>
<line x1="81.3" x2="81.3" y1="170.8" y2="172.1" stroke="#999" stroke-width="0.4"/>
<rect x="282.6" y="128.5" width="67.9" height="40.0" fill="#fff" stroke="#b8b8b8" stroke-width="0.7"/>
<rect x="293.91" y="167.60" width="2.40" height="0.90" fill="#e36c55"/>
<rect x="295.97" y="167.60" width="2.40" height="0.90" fill="#ea7b60"/>
<rect x="298.02" y="167.60" width="2.40" height="0.90" fill="#f08b6e"/>
<rect x="302.13" y="167.60" width="2.40" height="0.90" fill="#f7a688"/>
<rect x="304.18" y="167.85" width="2.40" height="0.65" fill="#f7b396"/>
<rect x="306.23" y="166.31" width="2.40" height="2.19" fill="#f6bda2"/>
<rect x="310.34" y="167.85" width="2.40" height="0.65" fill="#efcebd"/>
<rect x="312.39" y="161.66" width="2.40" height="6.84" fill="#e9d5cb"/>
<rect x="314.45" y="159.86" width="2.40" height="8.64" fill="#e1dad6"/>
<rect x="316.50" y="158.44" width="2.40" height="10.06" fill="#d8dce2"/>
<rect x="318.55" y="158.18" width="2.40" height="10.32" fill="#cfdaea"/>
<rect x="320.61" y="158.70" width="2.40" height="9.80" fill="#c5d6f2"/>
<rect x="322.66" y="165.15" width="2.40" height="3.35" fill="#bbd1f8"/>
<rect x="324.71" y="162.18" width="2.40" height="6.32" fill="#afcafc"/>
<rect x="326.77" y="158.18" width="2.40" height="10.32" fill="#a5c3fe"/>
<rect x="328.82" y="153.92" width="2.40" height="14.58" fill="#98b9ff"/>
<rect x="330.87" y="157.53" width="2.40" height="10.96" fill="#8db0fe"/>
<rect x="332.93" y="155.73" width="2.40" height="12.77" fill="#81a4fb"/>
<rect x="334.98" y="143.34" width="2.40" height="25.16" fill="#7597f6"/>
<rect x="337.03" y="134.44" width="2.40" height="34.06" fill="#6a8bef"/>
<rect x="339.09" y="140.89" width="2.40" height="27.61" fill="#5e7de7"/>
<rect x="341.14" y="141.54" width="2.40" height="26.96" fill="#5470de"/>
<rect x="343.19" y="146.83" width="2.40" height="21.67" fill="#4961d2"/>
<rect x="345.25" y="166.31" width="2.40" height="2.19" fill="#3f53c6"/>
<line x1="331.7" x2="331.7" y1="128.9" y2="168.1" stroke="#333" stroke-width="0.7" stroke-dasharray="1.4,1"/>
<text class="dj" x="280.9" y="131.6" font-size="6.3" text-anchor="end">30</text>
<line x1="281.3" x2="282.6" y1="129.3" y2="129.3" stroke="#999" stroke-width="0.4"/>
<text class="dj" x="280.9" y="144.5" font-size="6.3" text-anchor="end">20</text>
<line x1="281.3" x2="282.6" y1="142.2" y2="142.2" stroke="#999" stroke-width="0.4"/>
<text class="dj" x="280.9" y="157.2" font-size="6.3" text-anchor="end">10</text>
<line x1="281.3" x2="282.6" y1="154.9" y2="154.9" stroke="#999" stroke-width="0.4"/>
<text class="dj" x="301" y="175.0" font-size="6.3" text-anchor="middle">−0.5</text>
<line x1="301" x2="301" y1="168.5" y2="169.8" stroke="#999" stroke-width="0.4"/>
<text class="dj" x="316.5" y="175.0" font-size="6.3" text-anchor="middle">0.0</text>
<line x1="316.5" x2="316.5" y1="168.5" y2="169.8" stroke="#999" stroke-width="0.4"/>
<text class="dj" x="331.7" y="175.0" font-size="6.3" text-anchor="middle">0.5</text>
<line x1="331.7" x2="331.7" y1="168.5" y2="169.8" stroke="#999" stroke-width="0.4"/>
<rect x="31.5" y="297.7" width="68.9" height="41.9" fill="#fff" stroke="#b8b8b8" stroke-width="0.7"/>
<rect x="34.20" y="337.75" width="2.41" height="1.85" fill="#fde725"/>
<rect x="40.37" y="336.46" width="2.41" height="3.15" fill="#c0df25"/>
<rect x="42.42" y="334.05" width="2.41" height="5.55" fill="#a8db34"/>
<rect x="44.48" y="319.81" width="2.41" height="19.79" fill="#93d741"/>
<rect x="46.53" y="300.75" width="2.41" height="38.85" fill="#7fd34e"/>
<rect x="48.59" y="310.00" width="2.41" height="29.60" fill="#69cd5b"/>
<rect x="50.64" y="323.32" width="2.41" height="16.28" fill="#58c765"/>
<rect x="52.70" y="319.25" width="2.41" height="20.35" fill="#48c16e"/>
<rect x="54.75" y="330.35" width="2.41" height="9.25" fill="#38b977"/>
<rect x="56.81" y="324.99" width="2.41" height="14.62" fill="#2db27d"/>
<rect x="58.86" y="317.40" width="2.41" height="22.20" fill="#25ab82"/>
<rect x="60.92" y="324.99" width="2.41" height="14.62" fill="#1fa287"/>
<rect x="62.97" y="324.99" width="2.41" height="14.62" fill="#1e9b8a"/>
<rect x="65.03" y="317.03" width="2.41" height="22.57" fill="#20938c"/>
<rect x="67.08" y="318.51" width="2.41" height="21.09" fill="#228b8d"/>
<rect x="69.14" y="319.25" width="2.41" height="20.35" fill="#25838e"/>
<rect x="71.19" y="322.21" width="2.41" height="17.39" fill="#297b8e"/>
<rect x="73.25" y="330.35" width="2.41" height="9.25" fill="#2c738e"/>
<rect x="75.30" y="321.10" width="2.41" height="18.50" fill="#2f6c8e"/>
<rect x="77.36" y="330.35" width="2.41" height="9.25" fill="#33638d"/>
<rect x="79.41" y="328.50" width="2.41" height="11.10" fill="#375b8d"/>
<rect x="81.47" y="332.94" width="2.41" height="6.66" fill="#3b528b"/>
<rect x="83.52" y="330.35" width="2.41" height="9.25" fill="#3f4889"/>
<rect x="87.63" y="337.75" width="2.41" height="1.85" fill="#453581"/>
<rect x="93.80" y="337.75" width="2.41" height="1.85" fill="#481668"/>
<line x1="61.8" x2="61.8" y1="298.09999999999997" y2="339.20000000000005" stroke="#333" stroke-width="0.7" stroke-dasharray="1.4,1"/>
<text class="dj" x="29.8" y="304.7" font-size="6.3" text-anchor="end">20</text>
<line x1="30.2" x2="31.5" y1="302.4" y2="302.4" stroke="#999" stroke-width="0.4"/>
<text class="dj" x="29.8" y="323.2" font-size="6.3" text-anchor="end">10</text>
<line x1="30.2" x2="31.5" y1="320.9" y2="320.9" stroke="#999" stroke-width="0.4"/>
<text class="dj" x="29.8" y="341.8" font-size="6.3" text-anchor="end">0</text>
<line x1="30.2" x2="31.5" y1="339.5" y2="339.5" stroke="#999" stroke-width="0.4"/>
<text class="dj" x="45.8" y="346.8" font-size="6.3" text-anchor="middle">0.02</text>
<line x1="45.8" x2="45.8" y1="339.6" y2="340.9" stroke="#999" stroke-width="0.4"/>
<text class="dj" x="66.7" y="346.8" font-size="6.3" text-anchor="middle">0.06</text>
<line x1="66.7" x2="66.7" y1="339.6" y2="340.9" stroke="#999" stroke-width="0.4"/>
<text class="dj" x="87.8" y="346.8" font-size="6.3" text-anchor="middle">0.10</text>
<line x1="87.8" x2="87.8" y1="339.6" y2="340.9" stroke="#999" stroke-width="0.4"/>
<rect x="286.5" y="297.5" width="68.5" height="40.9" fill="#fff" stroke="#b8b8b8" stroke-width="0.7"/>
<rect x="291.56" y="335.25" width="2.41" height="3.15" fill="#e5e419"/>
<rect x="293.62" y="333.08" width="2.41" height="5.32" fill="#d0e11c"/>
<rect x="295.68" y="330.32" width="2.41" height="8.08" fill="#b8de29"/>
<rect x="297.74" y="320.08" width="2.41" height="18.32" fill="#a2da37"/>
<rect x="299.80" y="313.58" width="2.41" height="24.82" fill="#8bd646"/>
<rect x="301.86" y="309.44" width="2.41" height="28.96" fill="#77d153"/>
<rect x="303.92" y="301.56" width="2.41" height="36.84" fill="#65cb5e"/>
<rect x="305.98" y="310.43" width="2.41" height="27.97" fill="#52c569"/>
<rect x="308.04" y="305.30" width="2.41" height="33.10" fill="#42be71"/>
<rect x="310.10" y="314.56" width="2.41" height="23.84" fill="#34b679"/>
<rect x="312.16" y="299.39" width="2.41" height="39.01" fill="#29af7f"/>
<rect x="314.22" y="315.15" width="2.41" height="23.25" fill="#22a884"/>
<rect x="316.28" y="317.32" width="2.41" height="21.08" fill="#1fa088"/>
<rect x="318.34" y="311.41" width="2.41" height="26.99" fill="#1f988b"/>
<rect x="320.40" y="322.84" width="2.41" height="15.56" fill="#21908d"/>
<rect x="322.46" y="325.20" width="2.41" height="13.20" fill="#23888e"/>
<rect x="324.52" y="326.97" width="2.41" height="11.43" fill="#27808e"/>
<rect x="326.58" y="331.70" width="2.41" height="6.70" fill="#2a788e"/>
<rect x="328.64" y="334.46" width="2.41" height="3.94" fill="#2d718e"/>
<rect x="330.70" y="336.63" width="2.41" height="1.77" fill="#31688e"/>
<rect x="336.88" y="336.63" width="2.41" height="1.77" fill="#3d4e8a"/>
<rect x="343.06" y="336.63" width="2.41" height="1.77" fill="#46307e"/>
<line x1="311" x2="311" y1="297.9" y2="338.0" stroke="#333" stroke-width="0.7" stroke-dasharray="1.4,1"/>
<text class="dj" x="284.8" y="301.4" font-size="6.3" text-anchor="end">20</text>
<line x1="285.2" x2="286.5" y1="299.1" y2="299.1" stroke="#999" stroke-width="0.4"/>
<text class="dj" x="284.8" y="321.0" font-size="6.3" text-anchor="end">10</text>
<line x1="285.2" x2="286.5" y1="318.7" y2="318.7" stroke="#999" stroke-width="0.4"/>
<text class="dj" x="284.8" y="340.8" font-size="6.3" text-anchor="end">0</text>
<line x1="285.2" x2="286.5" y1="338.5" y2="338.5" stroke="#999" stroke-width="0.4"/>
<text class="dj" x="300.5" y="345.9" font-size="6.3" text-anchor="middle">0.02</text>
<line x1="300.5" x2="300.5" y1="338.4" y2="339.7" stroke="#999" stroke-width="0.4"/>
<text class="dj" x="321.4" y="345.9" font-size="6.3" text-anchor="middle">0.06</text>
<line x1="321.4" x2="321.4" y1="338.4" y2="339.7" stroke="#999" stroke-width="0.4"/>
<text class="dj" x="342.3" y="345.9" font-size="6.3" text-anchor="middle">0.10</text>
<line x1="342.3" x2="342.3" y1="338.4" y2="339.7" stroke="#999" stroke-width="0.4"/>
<rect x="32.2" y="474.5" width="67.3" height="41.2" fill="#fff" stroke="#b8b8b8" stroke-width="0.7"/>
<rect x="34.90" y="513.25" width="2.42" height="2.45" fill="#9e0142"/>
<rect x="39.04" y="503.45" width="2.42" height="12.25" fill="#c1274a"/>
<rect x="41.12" y="508.11" width="2.42" height="7.60" fill="#d43d4f"/>
<rect x="43.19" y="511.05" width="2.42" height="4.66" fill="#df4e4b"/>
<rect x="45.26" y="511.05" width="2.42" height="4.66" fill="#e95c47"/>
<rect x="47.33" y="506.39" width="2.42" height="9.31" fill="#f46d43"/>
<rect x="49.40" y="506.39" width="2.42" height="9.31" fill="#f7844e"/>
<rect x="51.48" y="498.55" width="2.42" height="17.15" fill="#fa9857"/>
<rect x="53.55" y="511.05" width="2.42" height="4.66" fill="#fdaf62"/>
<rect x="55.62" y="508.84" width="2.42" height="6.86" fill="#fdc171"/>
<rect x="57.69" y="498.55" width="2.42" height="17.15" fill="#fed07e"/>
<rect x="59.76" y="483.85" width="2.42" height="31.85" fill="#fee18d"/>
<rect x="61.84" y="493.90" width="2.42" height="21.81" fill="#feec9f"/>
<rect x="63.91" y="486.30" width="2.42" height="29.40" fill="#fff6b0"/>
<rect x="65.98" y="496.35" width="2.42" height="19.36" fill="#fefebd"/>
<rect x="70.12" y="486.30" width="2.42" height="29.40" fill="#edf8a3"/>
<rect x="72.20" y="493.90" width="2.42" height="21.81" fill="#e1f399"/>
<rect x="74.27" y="476.50" width="2.42" height="39.20" fill="#cfec9d"/>
<rect x="76.34" y="488.75" width="2.42" height="26.95" fill="#bae3a1"/>
<rect x="78.41" y="476.50" width="2.42" height="39.20" fill="#a4daa4"/>
<rect x="80.48" y="499.04" width="2.42" height="16.66" fill="#8fd2a4"/>
<rect x="82.56" y="499.04" width="2.42" height="16.66" fill="#76c8a5"/>
<rect x="84.63" y="493.90" width="2.42" height="21.81" fill="#60bba8"/>
<rect x="86.70" y="511.05" width="2.42" height="4.66" fill="#50a9af"/>
<rect x="88.77" y="503.94" width="2.42" height="11.76" fill="#3d95b8"/>
<rect x="90.84" y="506.39" width="2.42" height="9.31" fill="#3880b9"/>
<rect x="92.92" y="508.84" width="2.42" height="6.86" fill="#466eb1"/>
<line x1="69.5" x2="69.5" y1="474.9" y2="515.3000000000001" stroke="#333" stroke-width="0.7" stroke-dasharray="1.4,1"/>
<text class="dj" x="30.5" y="479.2" font-size="6.3" text-anchor="end">16</text>
<line x1="30.9" x2="32.2" y1="476.9" y2="476.9" stroke="#999" stroke-width="0.4"/>
<text class="dj" x="30.5" y="498.8" font-size="6.3" text-anchor="end">8</text>
<line x1="30.9" x2="32.2" y1="496.5" y2="496.5" stroke="#999" stroke-width="0.4"/>
<text class="dj" x="30.5" y="518.3" font-size="6.3" text-anchor="end">0</text>
<line x1="30.9" x2="32.2" y1="516" y2="516" stroke="#999" stroke-width="0.4"/>
<text class="dj" x="46.4" y="522.8" font-size="6.3" text-anchor="middle">−0.1</text>
<line x1="46.4" x2="46.4" y1="515.7" y2="517.0" stroke="#999" stroke-width="0.4"/>
<text class="dj" x="66.7" y="522.8" font-size="6.3" text-anchor="middle">0.0</text>
<line x1="66.7" x2="66.7" y1="515.7" y2="517.0" stroke="#999" stroke-width="0.4"/>
<text class="dj" x="87.3" y="522.8" font-size="6.3" text-anchor="middle">0.1</text>
<line x1="87.3" x2="87.3" y1="515.7" y2="517.0" stroke="#999" stroke-width="0.4"/>
<rect x="286.5" y="475.3" width="67.0" height="41.3" fill="#fff" stroke="#b8b8b8" stroke-width="0.7"/>
<rect x="288.80" y="506.02" width="2.40" height="10.58" fill="#a20643"/>
<rect x="290.85" y="506.02" width="2.40" height="10.58" fill="#b61b48"/>
<rect x="292.90" y="501.38" width="2.40" height="15.22" fill="#c72e4c"/>
<rect x="294.95" y="495.96" width="2.40" height="20.64" fill="#d8434e"/>
<rect x="297.00" y="509.38" width="2.40" height="7.22" fill="#e3534a"/>
<rect x="299.05" y="511.44" width="2.40" height="5.16" fill="#ed6246"/>
<rect x="301.10" y="508.86" width="2.40" height="7.74" fill="#f57547"/>
<rect x="303.15" y="495.96" width="2.40" height="20.64" fill="#f88c51"/>
<rect x="305.20" y="511.44" width="2.40" height="5.16" fill="#fba05b"/>
<rect x="307.25" y="501.12" width="2.40" height="15.48" fill="#fdb567"/>
<rect x="309.30" y="493.12" width="2.40" height="23.48" fill="#fdc776"/>
<rect x="311.35" y="503.70" width="2.40" height="12.90" fill="#fed683"/>
<rect x="313.40" y="490.80" width="2.40" height="25.80" fill="#fee593"/>
<rect x="315.45" y="492.86" width="2.40" height="23.74" fill="#fff0a6"/>
<rect x="317.50" y="496.22" width="2.40" height="20.38" fill="#fffab6"/>
<rect x="319.55" y="496.22" width="2.40" height="20.38" fill="#fbfdb8"/>
<rect x="321.60" y="482.29" width="2.40" height="34.31" fill="#f2faaa"/>
<rect x="323.65" y="496.22" width="2.40" height="20.38" fill="#eaf79e"/>
<rect x="325.70" y="485.12" width="2.40" height="31.48" fill="#daf09a"/>
<rect x="327.75" y="498.28" width="2.40" height="18.32" fill="#c6e89f"/>
<rect x="329.80" y="477.13" width="2.40" height="39.47" fill="#b3e0a2"/>
<rect x="331.85" y="509.38" width="2.40" height="7.22" fill="#9cd7a4"/>
<rect x="333.90" y="501.38" width="2.40" height="15.22" fill="#84cea5"/>
<rect x="335.95" y="506.54" width="2.40" height="10.06" fill="#6ec5a5"/>
<rect x="338.00" y="487.96" width="2.40" height="28.64" fill="#5ab4ab"/>
<rect x="340.05" y="509.38" width="2.40" height="7.22" fill="#47a0b3"/>
<rect x="342.10" y="509.38" width="2.40" height="7.22" fill="#378ebb"/>
<rect x="344.15" y="509.38" width="2.40" height="7.22" fill="#3d79b6"/>
<rect x="346.20" y="509.38" width="2.40" height="7.22" fill="#4d65ad"/>
<rect x="348.25" y="514.02" width="2.40" height="2.58" fill="#5b53a4"/>
<line x1="318.1" x2="318.1" y1="475.7" y2="516.2" stroke="#333" stroke-width="0.7" stroke-dasharray="1.4,1"/>
<text class="dj" x="284.8" y="480.1" font-size="6.3" text-anchor="end">15</text>
<line x1="285.2" x2="286.5" y1="477.8" y2="477.8" stroke="#999" stroke-width="0.4"/>
<text class="dj" x="284.8" y="500.7" font-size="6.3" text-anchor="end">7</text>
<line x1="285.2" x2="286.5" y1="498.4" y2="498.4" stroke="#999" stroke-width="0.4"/>
<text class="dj" x="284.8" y="518.8" font-size="6.3" text-anchor="end">0</text>
<line x1="285.2" x2="286.5" y1="516.5" y2="516.5" stroke="#999" stroke-width="0.4"/>
<text class="dj" x="299.5" y="523.4" font-size="6.3" text-anchor="middle">−0.1</text>
<line x1="299.5" x2="299.5" y1="516.6" y2="517.9" stroke="#999" stroke-width="0.4"/>
<text class="dj" x="319.5" y="523.4" font-size="6.3" text-anchor="middle">0.0</text>
<line x1="319.5" x2="319.5" y1="516.6" y2="517.9" stroke="#999" stroke-width="0.4"/>
<text class="dj" x="339.9" y="523.4" font-size="6.3" text-anchor="middle">0.1</text>
<line x1="339.9" x2="339.9" y1="516.6" y2="517.9" stroke="#999" stroke-width="0.4"/>
<rect x="31.8" y="652.3" width="68.2" height="40.0" fill="#fff" stroke="#b8b8b8" stroke-width="0.7"/>
<rect x="35.20" y="674.59" width="2.42" height="17.71" fill="#46075a"/>
<rect x="37.27" y="676.78" width="2.42" height="15.52" fill="#471365"/>
<rect x="39.34" y="678.97" width="2.42" height="13.33" fill="#481d6f"/>
<rect x="41.42" y="684.54" width="2.42" height="7.76" fill="#482979"/>
<rect x="43.49" y="684.54" width="2.42" height="7.76" fill="#46337f"/>
<rect x="45.56" y="684.54" width="2.42" height="7.76" fill="#433d84"/>
<rect x="47.63" y="672.60" width="2.42" height="19.70" fill="#404688"/>
<rect x="49.70" y="682.55" width="2.42" height="9.75" fill="#3c4f8a"/>
<rect x="51.78" y="680.76" width="2.42" height="11.54" fill="#38588c"/>
<rect x="53.85" y="670.81" width="2.42" height="21.49" fill="#34618d"/>
<rect x="55.92" y="687.13" width="2.42" height="5.17" fill="#30698e"/>
<rect x="57.99" y="680.76" width="2.42" height="11.54" fill="#2d718e"/>
<rect x="60.06" y="687.13" width="2.42" height="5.17" fill="#2a788e"/>
<rect x="62.14" y="678.77" width="2.42" height="13.53" fill="#27808e"/>
<rect x="64.21" y="678.77" width="2.42" height="13.53" fill="#23888e"/>
<rect x="66.28" y="680.76" width="2.42" height="11.54" fill="#21908d"/>
<rect x="68.35" y="668.82" width="2.42" height="23.48" fill="#1f978b"/>
<rect x="70.42" y="687.13" width="2.42" height="5.17" fill="#1f9f88"/>
<rect x="72.50" y="680.76" width="2.42" height="11.54" fill="#21a685"/>
<rect x="74.57" y="664.64" width="2.42" height="27.66" fill="#28ae80"/>
<rect x="76.64" y="664.64" width="2.42" height="27.66" fill="#32b67a"/>
<rect x="78.71" y="687.13" width="2.42" height="5.17" fill="#3fbc73"/>
<rect x="80.78" y="680.76" width="2.42" height="11.54" fill="#4ec36b"/>
<rect x="82.86" y="687.13" width="2.42" height="5.17" fill="#5ec962"/>
<rect x="84.93" y="680.76" width="2.42" height="11.54" fill="#70cf57"/>
<rect x="87.00" y="678.77" width="2.42" height="13.53" fill="#86d549"/>
<rect x="89.07" y="678.77" width="2.42" height="13.53" fill="#9bd93c"/>
<rect x="91.14" y="688.32" width="2.42" height="3.98" fill="#b0dd2f"/>
<rect x="93.22" y="680.76" width="2.42" height="11.54" fill="#c5e021"/>
<rect x="95.29" y="690.51" width="2.42" height="1.79" fill="#dae319"/>
<line x1="67.6" x2="67.6" y1="652.6999999999999" y2="691.9" stroke="#333" stroke-width="0.7" stroke-dasharray="1.4,1"/>
<text class="dj" x="30.1" y="655.0" font-size="6.3" text-anchor="end">20</text>
<line x1="30.5" x2="31.8" y1="652.7" y2="652.7" stroke="#999" stroke-width="0.4"/>
<text class="dj" x="30.1" y="675.0" font-size="6.3" text-anchor="end">10</text>
<line x1="30.5" x2="31.8" y1="672.7" y2="672.7" stroke="#999" stroke-width="0.4"/>
<text class="dj" x="30.1" y="694.7" font-size="6.3" text-anchor="end">0</text>
<line x1="30.5" x2="31.8" y1="692.4" y2="692.4" stroke="#999" stroke-width="0.4"/>
<text class="dj" x="35.1" y="699.0" font-size="6.3" text-anchor="middle">0.0</text>
<line x1="35.1" x2="35.1" y1="692.3" y2="693.6" stroke="#999" stroke-width="0.4"/>
<text class="dj" x="62.4" y="699.0" font-size="6.3" text-anchor="middle">0.3</text>
<line x1="62.4" x2="62.4" y1="692.3" y2="693.6" stroke="#999" stroke-width="0.4"/>
<text class="dj" x="89.1" y="699.0" font-size="6.3" text-anchor="middle">0.6</text>
<line x1="89.1" x2="89.1" y1="692.3" y2="693.6" stroke="#999" stroke-width="0.4"/>
<rect x="287.2" y="655.5" width="68.2" height="40.1" fill="#fff" stroke="#b8b8b8" stroke-width="0.7"/>
<rect x="290.20" y="675.90" width="2.42" height="19.70" fill="#46075a"/>
<rect x="292.27" y="679.68" width="2.42" height="15.92" fill="#471365"/>
<rect x="294.34" y="683.86" width="2.42" height="11.74" fill="#481d6f"/>
<rect x="296.42" y="685.85" width="2.42" height="9.75" fill="#482979"/>
<rect x="298.49" y="688.04" width="2.42" height="7.56" fill="#46337f"/>
<rect x="300.56" y="682.07" width="2.42" height="13.53" fill="#433d84"/>
<rect x="302.63" y="682.07" width="2.42" height="13.53" fill="#404688"/>
<rect x="304.70" y="683.86" width="2.42" height="11.74" fill="#3c4f8a"/>
<rect x="306.78" y="683.86" width="2.42" height="11.74" fill="#38588c"/>
<rect x="308.85" y="675.90" width="2.42" height="19.70" fill="#34618d"/>
<rect x="310.92" y="686.25" width="2.42" height="9.35" fill="#30698e"/>
<rect x="312.99" y="690.03" width="2.42" height="5.57" fill="#2d718e"/>
<rect x="315.06" y="682.07" width="2.42" height="13.53" fill="#2a788e"/>
<rect x="317.14" y="690.03" width="2.42" height="5.57" fill="#27808e"/>
<rect x="319.21" y="683.86" width="2.42" height="11.74" fill="#23888e"/>
<rect x="321.28" y="690.03" width="2.42" height="5.57" fill="#21908d"/>
<rect x="323.35" y="673.71" width="2.42" height="21.89" fill="#1f978b"/>
<rect x="325.42" y="683.86" width="2.42" height="11.74" fill="#1f9f88"/>
<rect x="327.50" y="683.86" width="2.42" height="11.74" fill="#21a685"/>
<rect x="329.57" y="690.03" width="2.42" height="5.57" fill="#28ae80"/>
<rect x="331.64" y="670.13" width="2.42" height="25.47" fill="#32b67a"/>
<rect x="333.71" y="686.25" width="2.42" height="9.35" fill="#3fbc73"/>
<rect x="335.78" y="682.07" width="2.42" height="13.53" fill="#4ec36b"/>
<rect x="337.86" y="672.12" width="2.42" height="23.48" fill="#5ec962"/>
<rect x="339.93" y="683.86" width="2.42" height="11.74" fill="#70cf57"/>
<rect x="342.00" y="690.03" width="2.42" height="5.57" fill="#86d549"/>
<rect x="344.07" y="685.85" width="2.42" height="9.75" fill="#9bd93c"/>
<rect x="346.14" y="685.85" width="2.42" height="9.75" fill="#b0dd2f"/>
<rect x="348.22" y="691.62" width="2.42" height="3.98" fill="#c5e021"/>
<rect x="350.29" y="685.85" width="2.42" height="9.75" fill="#dae319"/>
<line x1="323.7" x2="323.7" y1="655.9" y2="695.2" stroke="#333" stroke-width="0.7" stroke-dasharray="1.4,1"/>
<text class="dj" x="285.5" y="658.1" font-size="6.3" text-anchor="end">20</text>
<line x1="285.9" x2="287.2" y1="655.8" y2="655.8" stroke="#999" stroke-width="0.4"/>
<text class="dj" x="285.5" y="678.1" font-size="6.3" text-anchor="end">10</text>
<line x1="285.9" x2="287.2" y1="675.8" y2="675.8" stroke="#999" stroke-width="0.4"/>
<text class="dj" x="285.5" y="697.8" font-size="6.3" text-anchor="end">0</text>
<line x1="285.9" x2="287.2" y1="695.5" y2="695.5" stroke="#999" stroke-width="0.4"/>
<text class="dj" x="290.1" y="701.9" font-size="6.3" text-anchor="middle">0.0</text>
<line x1="290.1" x2="290.1" y1="695.6" y2="696.9" stroke="#999" stroke-width="0.4"/>
<text class="dj" x="317.4" y="701.9" font-size="6.3" text-anchor="middle">0.3</text>
<line x1="317.4" x2="317.4" y1="695.6" y2="696.9" stroke="#999" stroke-width="0.4"/>
<text class="dj" x="344.1" y="701.9" font-size="6.3" text-anchor="middle">0.6</text>
<line x1="344.1" x2="344.1" y1="695.6" y2="696.9" stroke="#999" stroke-width="0.4"/>
</svg></body></html>
